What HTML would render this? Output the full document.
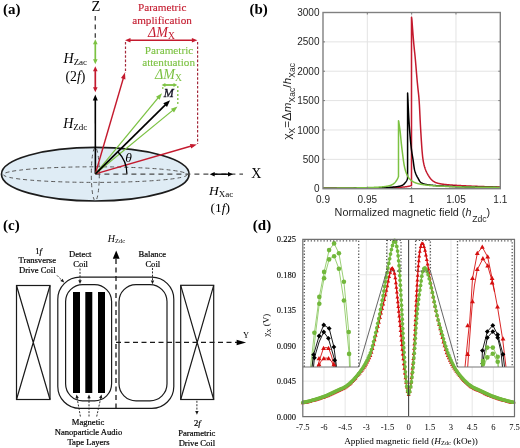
<!DOCTYPE html>
<html><head><meta charset="utf-8"><style>
html,body{margin:0;padding:0;background:#fff;width:520px;height:448px;overflow:hidden}
svg{display:block;filter:blur(0.45px)}
</style></head><body>
<svg width="520" height="448" viewBox="0 0 520 448">
<rect width="520" height="448" fill="#fff"/>
<text x="3" y="14" font-size="15" font-family="'Liberation Serif', serif" fill="#000" font-weight="bold">(a)</text>
<ellipse cx="95.3" cy="174.2" rx="93.8" ry="26.8" fill="#dfecf5" stroke="#1c1c1c" stroke-width="1.7"/>
<ellipse cx="95.3" cy="174.6" rx="92" ry="7.8" fill="none" stroke="#5a5a5a" stroke-width="1" stroke-dasharray="4 3"/>
<ellipse cx="95.3" cy="174.2" rx="4" ry="26.6" fill="none" stroke="#5a5a5a" stroke-width="1" stroke-dasharray="4 3"/>
<line x1="95.4" y1="174.10000000000002" x2="243" y2="174.10000000000002" stroke="#4a4a4a" stroke-width="1.3" stroke-dasharray="5 4"/>
<line x1="212.7" y1="174.2" x2="230" y2="174.2" stroke="#000" stroke-width="1.4"/><polygon points="233,174.2 228,176.4 228,172" fill="#000"/><polygon points="209.7,174.2 214.7,172 214.7,176.4" fill="#000"/>
<text x="251.3" y="177.8" font-size="14" font-family="'Liberation Serif', serif" fill="#000" >X</text>
<text x="209" y="195.3" font-size="13.5" font-family="'Liberation Serif', serif" fill="#000" ><tspan font-style="italic">H</tspan><tspan font-size="9" dy="1.7">Xac</tspan></text>
<text x="210.5" y="212.2" font-size="13.5" font-family="'Liberation Serif', serif" fill="#000" >(1<tspan font-style="italic">f</tspan>)</text>
<line x1="95.3" y1="16" x2="95.3" y2="39" stroke="#4a4a4a" stroke-width="1.4" stroke-dasharray="4.6 4"/>
<line x1="95.3" y1="42.3" x2="95.3" y2="61.3" stroke="#7cc242" stroke-width="1.7"/><polygon points="95.3,64.3 93,59.3 97.6,59.3" fill="#7cc242"/><polygon points="95.3,39.3 97.6,44.3 93,44.3" fill="#7cc242"/>
<line x1="95.3" y1="69.3" x2="95.3" y2="89.2" stroke="#c41a2e" stroke-width="1.7"/><polygon points="95.3,92.2 93,87.2 97.6,87.2" fill="#c41a2e"/><polygon points="95.3,66.3 97.6,71.3 93,71.3" fill="#c41a2e"/>
<line x1="95.4" y1="173.8" x2="95.3" y2="98" stroke="#000" stroke-width="1.6"/><polygon points="95.3,94.4 97.81,100.4 92.81,100.4" fill="#000"/>
<text x="91.4" y="10.8" font-size="14.5" font-family="'Liberation Serif', serif" fill="#000" >Z</text>
<text x="63.5" y="63" font-size="14" font-family="'Liberation Serif', serif" fill="#000" ><tspan font-style="italic">H</tspan><tspan font-size="9" dy="1.7">Zac</tspan></text>
<text x="65.5" y="80.6" font-size="13.8" font-family="'Liberation Serif', serif" fill="#000" >(2<tspan font-style="italic">f</tspan>)</text>
<text x="63.2" y="128" font-size="14" font-family="'Liberation Serif', serif" fill="#000" ><tspan font-style="italic">H</tspan><tspan font-size="9" dy="1.7">Zdc</tspan></text>
<line x1="125.5" y1="42" x2="125.5" y2="73" stroke="#a3283a" stroke-width="1.2" stroke-dasharray="2.6 1.8"/>
<line x1="197.6" y1="42" x2="197.6" y2="144" stroke="#a3283a" stroke-width="1.2" stroke-dasharray="2.6 1.8"/>
<line x1="128.3" y1="40.3" x2="194.1" y2="40.3" stroke="#c41a2e" stroke-width="1.6"/><polygon points="197.4,40.3 191.9,42.5 191.9,38.1" fill="#c41a2e"/><polygon points="125,40.3 130.5,38.1 130.5,42.5" fill="#c41a2e"/>
<line x1="162.8" y1="87" x2="162.8" y2="90.5" stroke="#7cc242" stroke-width="1.2" stroke-dasharray="2 2"/>
<line x1="177.8" y1="86" x2="177.8" y2="104" stroke="#7cc242" stroke-width="1.3" stroke-dasharray="2 2"/>
<line x1="163.88" y1="85" x2="175.02" y2="85" stroke="#7cc242" stroke-width="1.8"/><polygon points="177.3,85 173.5,86.9 173.5,83.1" fill="#7cc242"/><polygon points="161.6,85 165.4,83.1 165.4,86.9" fill="#7cc242"/>
<line x1="95.4" y1="173.8" x2="123.91" y2="76.24" stroke="#c41a2e" stroke-width="1.4"/><polygon points="125,72.5 125.38,79.38 120.97,78.09" fill="#c41a2e"/>
<line x1="95.4" y1="173.8" x2="193.05" y2="145.49" stroke="#c41a2e" stroke-width="1.4"/><polygon points="196.8,144.4 191.2,148.42 189.92,144" fill="#c41a2e"/>
<line x1="95.4" y1="173.8" x2="159.52" y2="96.21" stroke="#7cc242" stroke-width="1.25"/><polygon points="162,93.2 159.71,99.74 156.01,96.68" fill="#7cc242"/>
<line x1="95.4" y1="173.8" x2="174.49" y2="108.87" stroke="#7cc242" stroke-width="1.25"/><polygon points="177.5,106.4 174,112.38 170.95,108.67" fill="#7cc242"/>
<line x1="95.4" y1="173.8" x2="167.11" y2="103.15" stroke="#000" stroke-width="1.7"/><polygon points="170.1,100.2 167.01,107.04 163.22,103.19" fill="#000"/>
<path d="M 126.9 173.8 A 31.5 31.5 0 0 0 117.84 151.69" fill="none" stroke="#000" stroke-width="1.3"/>
<text x="125.2" y="161.6" font-size="13.5" font-family="'Liberation Serif', serif" fill="#000" font-style="italic">&#952;</text>
<text x="163.8" y="97.4" font-size="12" font-family="'Liberation Serif', serif" fill="#1a1a2a" stroke="#1a1a2a" stroke-width="0.35" font-style="italic">M</text>
<text x="162.2" y="10.8" font-size="11.2" font-family="'Liberation Serif', serif" fill="#c41a2e" stroke="#c41a2e" stroke-width="0.12" text-anchor="middle">Parametric</text>
<text x="162" y="23.8" font-size="11.2" font-family="'Liberation Serif', serif" fill="#c41a2e" stroke="#c41a2e" stroke-width="0.12" text-anchor="middle">amplification</text>
<text x="148" y="36.9" font-size="14" font-family="'Liberation Serif', serif" fill="#c41a2e" font-style="italic">&#916;<tspan font-style="italic">M</tspan><tspan font-size="9.5" dy="1.8" font-style="normal">X</tspan></text>
<text x="169" y="53.5" font-size="11.2" font-family="'Liberation Serif', serif" fill="#7cc242" stroke="#7cc242" stroke-width="0.12" text-anchor="middle">Parametric</text>
<text x="168.6" y="66.2" font-size="11.2" font-family="'Liberation Serif', serif" fill="#7cc242" stroke="#7cc242" stroke-width="0.12" text-anchor="middle">attentuation</text>
<text x="155" y="79.4" font-size="14" font-family="'Liberation Serif', serif" fill="#7cc242" font-style="italic">&#916;<tspan font-style="italic">M</tspan><tspan font-size="9.5" dy="1.8" font-style="normal">X</tspan></text>
<text x="249.5" y="14.4" font-size="15" font-family="'Liberation Serif', serif" fill="#000" font-weight="bold">(b)</text>
<g stroke="#e3e3e3" stroke-width="1"><line x1="367.32" y1="12.5" x2="367.32" y2="188.7"/><line x1="411.65" y1="12.5" x2="411.65" y2="188.7"/><line x1="455.98" y1="12.5" x2="455.98" y2="188.7"/><line x1="323.0" y1="159.33" x2="500.3" y2="159.33"/><line x1="323.0" y1="129.97" x2="500.3" y2="129.97"/><line x1="323.0" y1="100.6" x2="500.3" y2="100.6"/><line x1="323.0" y1="71.23" x2="500.3" y2="71.23"/><line x1="323.0" y1="41.87" x2="500.3" y2="41.87"/></g>
<polyline points="323,188.35 323.25,188.35 323.51,188.35 323.76,188.35 324.01,188.35 324.27,188.34 324.52,188.34 324.78,188.34 325.03,188.34 325.28,188.34 325.54,188.34 325.79,188.34 326.04,188.34 326.3,188.34 326.55,188.34 326.8,188.34 327.06,188.33 327.31,188.33 327.57,188.33 327.82,188.33 328.07,188.33 328.33,188.33 328.58,188.33 328.83,188.33 329.09,188.33 329.34,188.33 329.59,188.32 329.85,188.32 330.1,188.32 330.36,188.32 330.61,188.32 330.86,188.32 331.12,188.32 331.37,188.32 331.62,188.32 331.88,188.31 332.13,188.31 332.38,188.31 332.64,188.31 332.89,188.31 333.15,188.31 333.4,188.31 333.65,188.31 333.91,188.31 334.16,188.3 334.41,188.3 334.67,188.3 334.92,188.3 335.18,188.3 335.43,188.3 335.68,188.3 335.94,188.3 336.19,188.3 336.44,188.29 336.7,188.29 336.95,188.29 337.2,188.29 337.46,188.29 337.71,188.29 337.97,188.29 338.22,188.29 338.47,188.28 338.73,188.28 338.98,188.28 339.23,188.28 339.49,188.28 339.74,188.28 339.99,188.28 340.25,188.28 340.5,188.27 340.76,188.27 341.01,188.27 341.26,188.27 341.52,188.27 341.77,188.27 342.02,188.27 342.28,188.27 342.53,188.26 342.78,188.26 343.04,188.26 343.29,188.26 343.55,188.26 343.8,188.26 344.05,188.26 344.31,188.25 344.56,188.25 344.81,188.25 345.07,188.25 345.32,188.25 345.57,188.25 345.83,188.25 346.08,188.24 346.34,188.24 346.59,188.24 346.84,188.24 347.1,188.24 347.35,188.24 347.6,188.23 347.86,188.23 348.11,188.23 348.36,188.23 348.62,188.23 348.87,188.23 349.13,188.23 349.38,188.22 349.63,188.22 349.89,188.22 350.14,188.22 350.39,188.22 350.65,188.22 350.9,188.21 351.15,188.21 351.41,188.21 351.66,188.21 351.92,188.21 352.17,188.21 352.42,188.2 352.68,188.2 352.93,188.2 353.18,188.2 353.44,188.2 353.69,188.19 353.95,188.19 354.2,188.19 354.45,188.19 354.71,188.19 354.96,188.19 355.21,188.18 355.47,188.18 355.72,188.18 355.97,188.18 356.23,188.18 356.48,188.17 356.74,188.17 356.99,188.17 357.24,188.17 357.5,188.17 357.75,188.16 358,188.16 358.26,188.16 358.51,188.16 358.76,188.16 359.02,188.15 359.27,188.15 359.53,188.15 359.78,188.15 360.03,188.15 360.29,188.14 360.54,188.14 360.79,188.14 361.05,188.14 361.3,188.13 361.55,188.13 361.81,188.13 362.06,188.13 362.32,188.13 362.57,188.12 362.82,188.12 363.08,188.12 363.33,188.12 363.58,188.11 363.84,188.11 364.09,188.11 364.34,188.11 364.6,188.1 364.85,188.1 365.11,188.1 365.36,188.1 365.61,188.09 365.87,188.09 366.12,188.09 366.37,188.09 366.63,188.08 366.88,188.08 367.13,188.08 367.39,188.07 367.64,188.07 367.9,188.07 368.15,188.07 368.4,188.06 368.66,188.06 368.91,188.06 369.16,188.06 369.42,188.05 369.67,188.05 369.92,188.05 370.18,188.04 370.43,188.04 370.69,188.04 370.94,188.03 371.19,188.03 371.45,188.03 371.7,188.03 371.95,188.02 372.21,188.02 372.46,188.02 372.72,188.01 372.97,188.01 373.22,188.01 373.48,188 373.73,188 373.98,188 374.24,187.99 374.49,187.99 374.74,187.99 375,187.98 375.25,187.98 375.51,187.97 375.76,187.97 376.01,187.97 376.27,187.96 376.52,187.96 376.77,187.96 377.03,187.95 377.28,187.95 377.53,187.94 377.79,187.94 378.04,187.94 378.3,187.93 378.55,187.93 378.8,187.92 379.06,187.92 379.31,187.92 379.56,187.91 379.82,187.91 380.07,187.9 380.32,187.9 380.58,187.89 380.83,187.89 381.09,187.89 381.34,187.88 381.59,187.88 381.85,187.87 382.1,187.87 382.35,187.86 382.61,187.86 382.86,187.85 383.11,187.85 383.37,187.84 383.62,187.84 383.88,187.83 384.13,187.83 384.38,187.82 384.64,187.82 384.89,187.81 385.14,187.81 385.4,187.8 385.65,187.79 385.9,187.79 386.16,187.78 386.41,187.78 386.67,187.77 386.92,187.76 387.17,187.76 387.43,187.75 387.68,187.75 387.93,187.74 388.19,187.73 388.44,187.73 388.69,187.72 388.95,187.71 389.2,187.71 389.46,187.7 389.71,187.69 389.96,187.68 390.22,187.68 390.47,187.67 390.72,187.66 390.98,187.65 391.23,187.65 391.48,187.64 391.74,187.63 391.99,187.62 392.25,187.61 392.5,187.61 392.75,187.6 393.01,187.59 393.26,187.58 393.51,187.57 393.77,187.56 394.02,187.55 394.28,187.54 394.53,187.53 394.78,187.52 395.04,187.51 395.29,187.5 395.54,187.49 395.8,187.48 396.05,187.47 396.3,187.46 396.56,187.45 396.81,187.44 397.07,187.43 397.32,187.41 397.57,187.4 397.83,187.39 398.08,187.38 398.33,187.36 398.59,187.35 398.84,187.34 399.09,187.32 399.35,187.31 399.6,187.29 399.86,187.28 400.11,187.26 400.36,187.25 400.62,187.23 400.87,187.22 401.12,187.2 401.38,187.18 401.63,187.16 401.88,187.15 402.14,187.13 402.39,187.11 402.65,187.09 402.9,187.07 403.15,187.05 403.41,187.02 403.66,187 403.91,186.98 404.17,186.95 404.42,186.93 404.67,186.9 404.93,186.88 405.18,186.85 405.44,186.82 405.69,186.79 405.94,186.76 406.2,186.72 406.45,186.69 406.7,186.65 406.96,186.62 407.21,186.58 407.46,186.54 407.72,186.49 407.97,186.45 408.23,186.4 408.48,186.35 408.73,186.3 408.99,186.25 409.24,186.19 409.49,186.12 409.75,186.05 410,185.97 410.25,185.89 410.51,185.79 410.76,185.68 411.02,185.56 411.27,185.43 411.49,185.3 411.5,17.2 411.52,17.21 411.78,18.65 412.03,21.43 412.28,24.74 412.54,28.2 412.79,31.64 413.05,34.96 413.3,38.13 413.55,41.14 413.81,43.98 414.06,46.66 414.31,49.18 414.57,51.55 414.82,53.79 415.07,56.23 415.33,58.98 415.58,61.94 415.84,64.99 416.09,68.09 416.34,71.16 416.6,74.18 416.85,77.12 417.1,79.96 417.36,82.7 417.61,85.32 417.86,87.82 418.12,90.19 418.37,92.44 418.63,94.77 418.88,97.38 419.13,100.44 419.39,104.5 419.64,109.41 419.89,114.65 420.15,119.85 420.4,124.76 420.65,129.22 420.91,133.39 421.16,137.6 421.42,141.67 421.67,145.48 421.92,148.94 422.18,152.03 422.43,154.74 422.68,157.06 422.94,159.02 423.19,160.65 423.44,162.07 423.7,163.34 423.95,164.48 424.21,165.52 424.46,166.47 424.71,167.34 424.97,168.14 425.22,168.89 425.47,169.58 425.73,170.23 425.98,170.85 426.23,171.43 426.49,171.98 426.74,172.51 427,173.02 427.25,173.5 427.5,173.97 427.76,174.42 428.01,174.86 428.26,175.29 428.52,175.71 428.77,176.11 429.02,176.51 429.28,176.89 429.53,177.25 429.79,177.61 430.04,177.95 430.29,178.27 430.55,178.59 430.8,178.89 431.05,179.17 431.31,179.45 431.56,179.71 431.82,179.96 432.07,180.2 432.32,180.43 432.58,180.64 432.83,180.85 433.08,181.04 433.34,181.23 433.59,181.4 433.84,181.57 434.1,181.73 434.35,181.88 434.61,182.02 434.86,182.15 435.11,182.28 435.37,182.4 435.62,182.51 435.87,182.61 436.13,182.71 436.38,182.8 436.63,182.89 436.89,182.97 437.14,183.04 437.4,183.12 437.65,183.19 437.9,183.25 438.16,183.32 438.41,183.38 438.66,183.44 438.92,183.5 439.17,183.55 439.42,183.61 439.68,183.66 439.93,183.71 440.19,183.76 440.44,183.8 440.69,183.85 440.95,183.89 441.2,183.94 441.45,183.98 441.71,184.02 441.96,184.06 442.21,184.1 442.47,184.14 442.72,184.17 442.98,184.21 443.23,184.24 443.48,184.28 443.74,184.31 443.99,184.34 444.24,184.37 444.5,184.4 444.75,184.43 445,184.46 445.26,184.49 445.51,184.52 445.77,184.54 446.02,184.57 446.27,184.6 446.53,184.62 446.78,184.65 447.03,184.67 447.29,184.7 447.54,184.72 447.79,184.74 448.05,184.77 448.3,184.79 448.56,184.81 448.81,184.83 449.06,184.85 449.32,184.87 449.57,184.89 449.82,184.91 450.08,184.93 450.33,184.95 450.58,184.97 450.84,184.99 451.09,185.01 451.35,185.03 451.6,185.05 451.85,185.07 452.11,185.08 452.36,185.1 452.61,185.12 452.87,185.14 453.12,185.15 453.38,185.17 453.63,185.19 453.88,185.2 454.14,185.22 454.39,185.24 454.64,185.25 454.9,185.27 455.15,185.28 455.4,185.3 455.66,185.31 455.91,185.33 456.17,185.34 456.42,185.36 456.67,185.37 456.93,185.39 457.18,185.4 457.43,185.42 457.69,185.43 457.94,185.45 458.19,185.46 458.45,185.48 458.7,185.49 458.96,185.5 459.21,185.52 459.46,185.53 459.72,185.55 459.97,185.56 460.22,185.57 460.48,185.59 460.73,185.6 460.98,185.61 461.24,185.63 461.49,185.64 461.75,185.65 462,185.67 462.25,185.68 462.51,185.69 462.76,185.71 463.01,185.72 463.27,185.73 463.52,185.74 463.77,185.76 464.03,185.77 464.28,185.78 464.54,185.79 464.79,185.81 465.04,185.82 465.3,185.83 465.55,185.84 465.8,185.86 466.06,185.87 466.31,185.88 466.56,185.89 466.82,185.91 467.07,185.92 467.33,185.93 467.58,185.94 467.83,185.95 468.09,185.97 468.34,185.98 468.59,185.99 468.85,186 469.1,186.01 469.35,186.03 469.61,186.04 469.86,186.05 470.12,186.06 470.37,186.07 470.62,186.09 470.88,186.1 471.13,186.11 471.38,186.12 471.64,186.13 471.89,186.14 472.15,186.15 472.4,186.17 472.65,186.18 472.91,186.19 473.16,186.2 473.41,186.21 473.67,186.22 473.92,186.23 474.17,186.24 474.43,186.25 474.68,186.26 474.94,186.27 475.19,186.28 475.44,186.29 475.7,186.3 475.95,186.31 476.2,186.33 476.46,186.34 476.71,186.35 476.96,186.36 477.22,186.37 477.47,186.37 477.73,186.38 477.98,186.39 478.23,186.4 478.49,186.41 478.74,186.42 478.99,186.43 479.25,186.44 479.5,186.45 479.75,186.46 480.01,186.47 480.26,186.48 480.52,186.49 480.77,186.5 481.02,186.51 481.28,186.52 481.53,186.52 481.78,186.53 482.04,186.54 482.29,186.55 482.54,186.56 482.8,186.57 483.05,186.58 483.31,186.59 483.56,186.59 483.81,186.6 484.07,186.61 484.32,186.62 484.57,186.63 484.83,186.64 485.08,186.64 485.33,186.65 485.59,186.66 485.84,186.67 486.1,186.68 486.35,186.68 486.6,186.69 486.86,186.7 487.11,186.71 487.36,186.71 487.62,186.72 487.87,186.73 488.12,186.74 488.38,186.74 488.63,186.75 488.89,186.76 489.14,186.77 489.39,186.77 489.65,186.78 489.9,186.79 490.15,186.8 490.41,186.8 490.66,186.81 490.92,186.82 491.17,186.82 491.42,186.83 491.68,186.84 491.93,186.85 492.18,186.85 492.44,186.86 492.69,186.87 492.94,186.87 493.2,186.88 493.45,186.89 493.71,186.89 493.96,186.9 494.21,186.91 494.47,186.91 494.72,186.92 494.97,186.92 495.23,186.93 495.48,186.94 495.73,186.94 495.99,186.95 496.24,186.96 496.5,186.96 496.75,186.97 497,186.97 497.26,186.98 497.51,186.99 497.76,186.99 498.02,187 498.27,187 498.52,187.01 498.78,187.02 499.03,187.02 499.29,187.03 499.54,187.03 499.79,187.04 500.05,187.05 500.3,187.05" fill="none" stroke="#c41a2e" stroke-width="1.5" stroke-linejoin="round"/>
<polyline points="323,188.29 323.25,188.29 323.51,188.29 323.76,188.28 324.01,188.28 324.27,188.28 324.52,188.28 324.78,188.28 325.03,188.28 325.28,188.28 325.54,188.28 325.79,188.28 326.04,188.28 326.3,188.28 326.55,188.27 326.8,188.27 327.06,188.27 327.31,188.27 327.57,188.27 327.82,188.27 328.07,188.27 328.33,188.27 328.58,188.27 328.83,188.27 329.09,188.26 329.34,188.26 329.59,188.26 329.85,188.26 330.1,188.26 330.36,188.26 330.61,188.26 330.86,188.26 331.12,188.26 331.37,188.25 331.62,188.25 331.88,188.25 332.13,188.25 332.38,188.25 332.64,188.25 332.89,188.25 333.15,188.25 333.4,188.25 333.65,188.24 333.91,188.24 334.16,188.24 334.41,188.24 334.67,188.24 334.92,188.24 335.18,188.24 335.43,188.24 335.68,188.23 335.94,188.23 336.19,188.23 336.44,188.23 336.7,188.23 336.95,188.23 337.2,188.23 337.46,188.23 337.71,188.22 337.97,188.22 338.22,188.22 338.47,188.22 338.73,188.22 338.98,188.22 339.23,188.22 339.49,188.22 339.74,188.21 339.99,188.21 340.25,188.21 340.5,188.21 340.76,188.21 341.01,188.21 341.26,188.21 341.52,188.2 341.77,188.2 342.02,188.2 342.28,188.2 342.53,188.2 342.78,188.2 343.04,188.2 343.29,188.19 343.55,188.19 343.8,188.19 344.05,188.19 344.31,188.19 344.56,188.19 344.81,188.19 345.07,188.18 345.32,188.18 345.57,188.18 345.83,188.18 346.08,188.18 346.34,188.18 346.59,188.17 346.84,188.17 347.1,188.17 347.35,188.17 347.6,188.17 347.86,188.17 348.11,188.16 348.36,188.16 348.62,188.16 348.87,188.16 349.13,188.16 349.38,188.16 349.63,188.15 349.89,188.15 350.14,188.15 350.39,188.15 350.65,188.15 350.9,188.14 351.15,188.14 351.41,188.14 351.66,188.14 351.92,188.14 352.17,188.13 352.42,188.13 352.68,188.13 352.93,188.13 353.18,188.13 353.44,188.13 353.69,188.12 353.95,188.12 354.2,188.12 354.45,188.12 354.71,188.11 354.96,188.11 355.21,188.11 355.47,188.11 355.72,188.11 355.97,188.1 356.23,188.1 356.48,188.1 356.74,188.1 356.99,188.09 357.24,188.09 357.5,188.09 357.75,188.09 358,188.09 358.26,188.08 358.51,188.08 358.76,188.08 359.02,188.08 359.27,188.07 359.53,188.07 359.78,188.07 360.03,188.07 360.29,188.06 360.54,188.06 360.79,188.06 361.05,188.06 361.3,188.05 361.55,188.05 361.81,188.05 362.06,188.04 362.32,188.04 362.57,188.04 362.82,188.04 363.08,188.03 363.33,188.03 363.58,188.03 363.84,188.02 364.09,188.02 364.34,188.02 364.6,188.02 364.85,188.01 365.11,188.01 365.36,188.01 365.61,188 365.87,188 366.12,188 366.37,187.99 366.63,187.99 366.88,187.99 367.13,187.98 367.39,187.98 367.64,187.98 367.9,187.97 368.15,187.97 368.4,187.97 368.66,187.96 368.91,187.96 369.16,187.95 369.42,187.95 369.67,187.95 369.92,187.94 370.18,187.94 370.43,187.93 370.69,187.93 370.94,187.93 371.19,187.92 371.45,187.92 371.7,187.91 371.95,187.91 372.21,187.91 372.46,187.9 372.72,187.9 372.97,187.89 373.22,187.89 373.48,187.88 373.73,187.88 373.98,187.87 374.24,187.87 374.49,187.86 374.74,187.86 375,187.85 375.25,187.85 375.51,187.84 375.76,187.84 376.01,187.83 376.27,187.83 376.52,187.82 376.77,187.82 377.03,187.81 377.28,187.81 377.53,187.8 377.79,187.79 378.04,187.79 378.3,187.78 378.55,187.78 378.8,187.77 379.06,187.76 379.31,187.76 379.56,187.75 379.82,187.74 380.07,187.74 380.32,187.73 380.58,187.72 380.83,187.72 381.09,187.71 381.34,187.7 381.59,187.69 381.85,187.69 382.1,187.68 382.35,187.67 382.61,187.66 382.86,187.65 383.11,187.65 383.37,187.64 383.62,187.63 383.88,187.62 384.13,187.61 384.38,187.6 384.64,187.59 384.89,187.58 385.14,187.57 385.4,187.56 385.65,187.55 385.9,187.54 386.16,187.53 386.41,187.52 386.67,187.51 386.92,187.5 387.17,187.49 387.43,187.47 387.68,187.46 387.93,187.45 388.19,187.44 388.44,187.42 388.69,187.41 388.95,187.4 389.2,187.38 389.46,187.37 389.71,187.36 389.96,187.34 390.22,187.32 390.47,187.31 390.72,187.29 390.98,187.28 391.23,187.26 391.48,187.24 391.74,187.22 391.99,187.2 392.25,187.18 392.5,187.16 392.75,187.14 393.01,187.12 393.26,187.1 393.51,187.08 393.77,187.06 394.02,187.03 394.28,187.01 394.53,186.98 394.78,186.95 395.04,186.93 395.29,186.9 395.54,186.87 395.8,186.84 396.05,186.81 396.3,186.77 396.56,186.74 396.81,186.7 397.07,186.67 397.32,186.63 397.57,186.59 397.83,186.54 398.08,186.5 398.33,186.45 398.59,186.41 398.84,186.35 399.09,186.3 399.35,186.24 399.6,186.19 399.86,186.12 400.11,186.06 400.36,185.99 400.62,185.92 400.87,185.84 401.12,185.76 401.38,185.67 401.63,185.57 401.88,185.46 402.14,185.34 402.39,185.21 402.65,185.07 402.9,184.92 403.15,184.75 403.41,184.56 403.66,184.36 403.91,184.14 404.17,183.9 404.42,183.64 404.67,183.36 404.93,183.06 405.18,182.75 405.44,182.44 405.69,182.13 405.94,181.8 406.2,181.43 406.45,181.01 406.7,180.54 406.96,180.02 407.21,179.47 407.46,178.94 407.59,178.73 407.6,92.96 407.72,95.12 407.97,100.78 408.23,106.64 408.48,112.13 408.73,117.06 408.99,121.43 409.24,125.28 409.49,128.67 409.75,131.76 410,134.88 410.25,137.93 410.51,140.82 410.76,143.49 411.02,145.94 411.27,148.16 411.52,150.17 411.78,151.94 412.03,153.56 412.28,155.11 412.54,156.64 412.79,158.18 413.05,159.75 413.3,161.46 413.55,163.39 413.81,165.31 414.06,167.08 414.31,168.62 414.57,169.88 414.82,170.9 415.07,171.79 415.33,172.57 415.58,173.27 415.84,173.91 416.09,174.49 416.34,175.05 416.6,175.57 416.85,176.07 417.1,176.56 417.36,177.03 417.61,177.49 417.86,177.95 418.12,178.41 418.37,178.88 418.63,179.36 418.88,179.82 419.13,180.26 419.39,180.68 419.64,181.07 419.89,181.43 420.15,181.75 420.4,182.05 420.65,182.31 420.91,182.54 421.16,182.73 421.42,182.9 421.67,183.04 421.92,183.16 422.18,183.28 422.43,183.39 422.68,183.49 422.94,183.59 423.19,183.68 423.44,183.77 423.7,183.85 423.95,183.93 424.21,184.01 424.46,184.08 424.71,184.14 424.97,184.21 425.22,184.27 425.47,184.33 425.73,184.38 425.98,184.44 426.23,184.49 426.49,184.54 426.74,184.58 427,184.63 427.25,184.67 427.5,184.72 427.76,184.76 428.01,184.8 428.26,184.83 428.52,184.87 428.77,184.91 429.02,184.94 429.28,184.97 429.53,185.01 429.79,185.04 430.04,185.07 430.29,185.1 430.55,185.13 430.8,185.16 431.05,185.18 431.31,185.21 431.56,185.24 431.82,185.26 432.07,185.29 432.32,185.31 432.58,185.34 432.83,185.36 433.08,185.38 433.34,185.41 433.59,185.43 433.84,185.45 434.1,185.47 434.35,185.49 434.61,185.51 434.86,185.53 435.11,185.55 435.37,185.57 435.62,185.59 435.87,185.61 436.13,185.63 436.38,185.65 436.63,185.67 436.89,185.69 437.14,185.7 437.4,185.72 437.65,185.74 437.9,185.76 438.16,185.78 438.41,185.79 438.66,185.81 438.92,185.83 439.17,185.84 439.42,185.86 439.68,185.88 439.93,185.89 440.19,185.91 440.44,185.92 440.69,185.94 440.95,185.96 441.2,185.97 441.45,185.99 441.71,186 441.96,186.02 442.21,186.03 442.47,186.05 442.72,186.06 442.98,186.08 443.23,186.09 443.48,186.11 443.74,186.12 443.99,186.14 444.24,186.15 444.5,186.16 444.75,186.18 445,186.19 445.26,186.2 445.51,186.22 445.77,186.23 446.02,186.24 446.27,186.26 446.53,186.27 446.78,186.28 447.03,186.29 447.29,186.31 447.54,186.32 447.79,186.33 448.05,186.34 448.3,186.35 448.56,186.36 448.81,186.37 449.06,186.39 449.32,186.4 449.57,186.41 449.82,186.42 450.08,186.43 450.33,186.44 450.58,186.45 450.84,186.46 451.09,186.47 451.35,186.48 451.6,186.49 451.85,186.5 452.11,186.51 452.36,186.52 452.61,186.53 452.87,186.54 453.12,186.55 453.38,186.55 453.63,186.56 453.88,186.57 454.14,186.58 454.39,186.59 454.64,186.6 454.9,186.61 455.15,186.62 455.4,186.62 455.66,186.63 455.91,186.64 456.17,186.65 456.42,186.66 456.67,186.67 456.93,186.67 457.18,186.68 457.43,186.69 457.69,186.7 457.94,186.7 458.19,186.71 458.45,186.72 458.7,186.73 458.96,186.73 459.21,186.74 459.46,186.75 459.72,186.76 459.97,186.76 460.22,186.77 460.48,186.78 460.73,186.78 460.98,186.79 461.24,186.8 461.49,186.8 461.75,186.81 462,186.82 462.25,186.82 462.51,186.83 462.76,186.84 463.01,186.84 463.27,186.85 463.52,186.86 463.77,186.86 464.03,186.87 464.28,186.87 464.54,186.88 464.79,186.89 465.04,186.89 465.3,186.9 465.55,186.9 465.8,186.91 466.06,186.92 466.31,186.92 466.56,186.93 466.82,186.93 467.07,186.94 467.33,186.94 467.58,186.95 467.83,186.95 468.09,186.96 468.34,186.97 468.59,186.97 468.85,186.98 469.1,186.98 469.35,186.99 469.61,186.99 469.86,187 470.12,187 470.37,187.01 470.62,187.01 470.88,187.02 471.13,187.02 471.38,187.03 471.64,187.03 471.89,187.04 472.15,187.04 472.4,187.05 472.65,187.05 472.91,187.05 473.16,187.06 473.41,187.06 473.67,187.07 473.92,187.07 474.17,187.08 474.43,187.08 474.68,187.09 474.94,187.09 475.19,187.1 475.44,187.1 475.7,187.1 475.95,187.11 476.2,187.11 476.46,187.12 476.71,187.12 476.96,187.12 477.22,187.13 477.47,187.13 477.73,187.14 477.98,187.14 478.23,187.15 478.49,187.15 478.74,187.15 478.99,187.16 479.25,187.16 479.5,187.16 479.75,187.17 480.01,187.17 480.26,187.18 480.52,187.18 480.77,187.18 481.02,187.19 481.28,187.19 481.53,187.2 481.78,187.2 482.04,187.2 482.29,187.21 482.54,187.21 482.8,187.21 483.05,187.22 483.31,187.22 483.56,187.22 483.81,187.23 484.07,187.23 484.32,187.23 484.57,187.24 484.83,187.24 485.08,187.24 485.33,187.25 485.59,187.25 485.84,187.25 486.1,187.26 486.35,187.26 486.6,187.26 486.86,187.27 487.11,187.27 487.36,187.27 487.62,187.28 487.87,187.28 488.12,187.28 488.38,187.29 488.63,187.29 488.89,187.29 489.14,187.3 489.39,187.3 489.65,187.3 489.9,187.3 490.15,187.31 490.41,187.31 490.66,187.31 490.92,187.32 491.17,187.32 491.42,187.32 491.68,187.33 491.93,187.33 492.18,187.33 492.44,187.33 492.69,187.34 492.94,187.34 493.2,187.34 493.45,187.34 493.71,187.35 493.96,187.35 494.21,187.35 494.47,187.36 494.72,187.36 494.97,187.36 495.23,187.36 495.48,187.37 495.73,187.37 495.99,187.37 496.24,187.37 496.5,187.38 496.75,187.38 497,187.38 497.26,187.38 497.51,187.39 497.76,187.39 498.02,187.39 498.27,187.39 498.52,187.4 498.78,187.4 499.03,187.4 499.29,187.4 499.54,187.41 499.79,187.41 500.05,187.41 500.3,187.41" fill="none" stroke="#000" stroke-width="1.5" stroke-linejoin="round"/>
<polyline points="323,188.23 323.25,188.23 323.51,188.22 323.76,188.22 324.01,188.22 324.27,188.22 324.52,188.22 324.78,188.22 325.03,188.21 325.28,188.21 325.54,188.21 325.79,188.21 326.04,188.21 326.3,188.21 326.55,188.2 326.8,188.2 327.06,188.2 327.31,188.2 327.57,188.2 327.82,188.2 328.07,188.19 328.33,188.19 328.58,188.19 328.83,188.19 329.09,188.19 329.34,188.19 329.59,188.18 329.85,188.18 330.1,188.18 330.36,188.18 330.61,188.18 330.86,188.17 331.12,188.17 331.37,188.17 331.62,188.17 331.88,188.17 332.13,188.16 332.38,188.16 332.64,188.16 332.89,188.16 333.15,188.16 333.4,188.15 333.65,188.15 333.91,188.15 334.16,188.15 334.41,188.15 334.67,188.14 334.92,188.14 335.18,188.14 335.43,188.14 335.68,188.14 335.94,188.13 336.19,188.13 336.44,188.13 336.7,188.13 336.95,188.12 337.2,188.12 337.46,188.12 337.71,188.12 337.97,188.11 338.22,188.11 338.47,188.11 338.73,188.11 338.98,188.11 339.23,188.1 339.49,188.1 339.74,188.1 339.99,188.1 340.25,188.09 340.5,188.09 340.76,188.09 341.01,188.09 341.26,188.08 341.52,188.08 341.77,188.08 342.02,188.07 342.28,188.07 342.53,188.07 342.78,188.07 343.04,188.06 343.29,188.06 343.55,188.06 343.8,188.06 344.05,188.05 344.31,188.05 344.56,188.05 344.81,188.04 345.07,188.04 345.32,188.04 345.57,188.04 345.83,188.03 346.08,188.03 346.34,188.03 346.59,188.02 346.84,188.02 347.1,188.02 347.35,188.01 347.6,188.01 347.86,188.01 348.11,188 348.36,188 348.62,188 348.87,187.99 349.13,187.99 349.38,187.99 349.63,187.98 349.89,187.98 350.14,187.98 350.39,187.97 350.65,187.97 350.9,187.97 351.15,187.96 351.41,187.96 351.66,187.95 351.92,187.95 352.17,187.95 352.42,187.94 352.68,187.94 352.93,187.94 353.18,187.93 353.44,187.93 353.69,187.92 353.95,187.92 354.2,187.92 354.45,187.91 354.71,187.91 354.96,187.9 355.21,187.9 355.47,187.89 355.72,187.89 355.97,187.89 356.23,187.88 356.48,187.88 356.74,187.87 356.99,187.87 357.24,187.86 357.5,187.86 357.75,187.85 358,187.85 358.26,187.84 358.51,187.84 358.76,187.83 359.02,187.83 359.27,187.82 359.53,187.82 359.78,187.81 360.03,187.81 360.29,187.8 360.54,187.8 360.79,187.79 361.05,187.78 361.3,187.78 361.55,187.77 361.81,187.77 362.06,187.76 362.32,187.76 362.57,187.75 362.82,187.74 363.08,187.74 363.33,187.73 363.58,187.73 363.84,187.72 364.09,187.71 364.34,187.71 364.6,187.7 364.85,187.69 365.11,187.69 365.36,187.68 365.61,187.67 365.87,187.66 366.12,187.66 366.37,187.65 366.63,187.64 366.88,187.63 367.13,187.63 367.39,187.62 367.64,187.61 367.9,187.6 368.15,187.6 368.4,187.59 368.66,187.58 368.91,187.57 369.16,187.56 369.42,187.55 369.67,187.54 369.92,187.54 370.18,187.53 370.43,187.52 370.69,187.51 370.94,187.5 371.19,187.49 371.45,187.48 371.7,187.47 371.95,187.46 372.21,187.45 372.46,187.44 372.72,187.43 372.97,187.42 373.22,187.41 373.48,187.4 373.73,187.38 373.98,187.37 374.24,187.36 374.49,187.35 374.74,187.34 375,187.32 375.25,187.31 375.51,187.3 375.76,187.29 376.01,187.27 376.27,187.26 376.52,187.25 376.77,187.23 377.03,187.22 377.28,187.2 377.53,187.19 377.79,187.17 378.04,187.16 378.3,187.14 378.55,187.13 378.8,187.11 379.06,187.09 379.31,187.08 379.56,187.06 379.82,187.04 380.07,187.02 380.32,187 380.58,186.98 380.83,186.96 381.09,186.94 381.34,186.92 381.59,186.9 381.85,186.88 382.1,186.86 382.35,186.83 382.61,186.81 382.86,186.78 383.11,186.76 383.37,186.73 383.62,186.71 383.88,186.68 384.13,186.65 384.38,186.62 384.64,186.59 384.89,186.56 385.14,186.53 385.4,186.49 385.65,186.46 385.9,186.42 386.16,186.38 386.41,186.34 386.67,186.3 386.92,186.26 387.17,186.22 387.43,186.17 387.68,186.12 387.93,186.07 388.19,186.02 388.44,185.96 388.69,185.91 388.95,185.84 389.2,185.78 389.46,185.71 389.71,185.64 389.96,185.56 390.22,185.48 390.47,185.39 390.72,185.29 390.98,185.19 391.23,185.09 391.48,184.98 391.74,184.86 391.99,184.73 392.25,184.59 392.5,184.45 392.75,184.3 393.01,184.13 393.26,183.96 393.51,183.78 393.77,183.59 394.02,183.4 394.28,183.19 394.53,182.95 394.78,182.7 395.04,182.42 395.29,182.12 395.54,181.8 395.8,181.46 396.05,181.11 396.3,180.75 396.56,180.4 396.81,180.03 397.07,179.62 397.32,179.15 397.57,178.64 397.83,178.08 398.08,177.49 398.33,176.93 398.49,176.67 398.5,120.75 398.59,120.86 398.84,122.03 399.09,123.79 399.35,125.7 399.6,127.58 399.86,129.34 400.11,131.15 400.36,133.47 400.62,136.06 400.87,138.72 401.12,141.32 401.38,143.81 401.63,146.13 401.88,148.29 402.14,150.29 402.39,152.31 402.65,154.39 402.9,156.45 403.15,158.43 403.41,160.29 403.66,162.01 403.91,163.61 404.17,165.06 404.42,166.38 404.67,167.57 404.93,168.64 405.18,169.61 405.44,170.48 405.69,171.29 405.94,172.06 406.2,172.78 406.45,173.45 406.7,174.08 406.96,174.66 407.21,175.21 407.46,175.72 407.72,176.19 407.97,176.64 408.23,177.05 408.48,177.43 408.73,177.79 408.99,178.12 409.24,178.44 409.49,178.74 409.75,179.02 410,179.29 410.25,179.55 410.51,179.79 410.76,180.02 411.02,180.24 411.27,180.45 411.52,180.65 411.78,180.84 412.03,181.02 412.28,181.2 412.54,181.36 412.79,181.52 413.05,181.67 413.3,181.81 413.55,181.95 413.81,182.08 414.06,182.21 414.31,182.33 414.57,182.44 414.82,182.55 415.07,182.66 415.33,182.76 415.58,182.85 415.84,182.95 416.09,183.03 416.34,183.12 416.6,183.2 416.85,183.28 417.1,183.36 417.36,183.43 417.61,183.5 417.86,183.57 418.12,183.64 418.37,183.7 418.63,183.77 418.88,183.83 419.13,183.89 419.39,183.95 419.64,184 419.89,184.06 420.15,184.11 420.4,184.16 420.65,184.21 420.91,184.26 421.16,184.31 421.42,184.36 421.67,184.4 421.92,184.45 422.18,184.49 422.43,184.53 422.68,184.57 422.94,184.62 423.19,184.65 423.44,184.69 423.7,184.73 423.95,184.77 424.21,184.8 424.46,184.84 424.71,184.87 424.97,184.91 425.22,184.94 425.47,184.97 425.73,185 425.98,185.03 426.23,185.06 426.49,185.09 426.74,185.12 427,185.15 427.25,185.18 427.5,185.21 427.76,185.24 428.01,185.26 428.26,185.29 428.52,185.31 428.77,185.34 429.02,185.36 429.28,185.39 429.53,185.41 429.79,185.43 430.04,185.46 430.29,185.48 430.55,185.5 430.8,185.52 431.05,185.55 431.31,185.57 431.56,185.59 431.82,185.61 432.07,185.63 432.32,185.65 432.58,185.67 432.83,185.69 433.08,185.71 433.34,185.73 433.59,185.74 433.84,185.76 434.1,185.78 434.35,185.8 434.61,185.82 434.86,185.83 435.11,185.85 435.37,185.87 435.62,185.88 435.87,185.9 436.13,185.92 436.38,185.93 436.63,185.95 436.89,185.96 437.14,185.98 437.4,185.99 437.65,186.01 437.9,186.02 438.16,186.04 438.41,186.05 438.66,186.07 438.92,186.08 439.17,186.09 439.42,186.11 439.68,186.12 439.93,186.13 440.19,186.15 440.44,186.16 440.69,186.17 440.95,186.19 441.2,186.2 441.45,186.21 441.71,186.22 441.96,186.24 442.21,186.25 442.47,186.26 442.72,186.27 442.98,186.28 443.23,186.29 443.48,186.3 443.74,186.32 443.99,186.33 444.24,186.34 444.5,186.35 444.75,186.36 445,186.37 445.26,186.38 445.51,186.39 445.77,186.4 446.02,186.41 446.27,186.42 446.53,186.43 446.78,186.44 447.03,186.45 447.29,186.46 447.54,186.47 447.79,186.48 448.05,186.49 448.3,186.5 448.56,186.51 448.81,186.52 449.06,186.52 449.32,186.53 449.57,186.54 449.82,186.55 450.08,186.56 450.33,186.57 450.58,186.58 450.84,186.58 451.09,186.59 451.35,186.6 451.6,186.61 451.85,186.62 452.11,186.63 452.36,186.63 452.61,186.64 452.87,186.65 453.12,186.66 453.38,186.66 453.63,186.67 453.88,186.68 454.14,186.69 454.39,186.69 454.64,186.7 454.9,186.71 455.15,186.72 455.4,186.72 455.66,186.73 455.91,186.74 456.17,186.74 456.42,186.75 456.67,186.76 456.93,186.76 457.18,186.77 457.43,186.78 457.69,186.78 457.94,186.79 458.19,186.8 458.45,186.8 458.7,186.81 458.96,186.81 459.21,186.82 459.46,186.83 459.72,186.83 459.97,186.84 460.22,186.84 460.48,186.85 460.73,186.86 460.98,186.86 461.24,186.87 461.49,186.87 461.75,186.88 462,186.89 462.25,186.89 462.51,186.9 462.76,186.9 463.01,186.91 463.27,186.91 463.52,186.92 463.77,186.92 464.03,186.93 464.28,186.93 464.54,186.94 464.79,186.94 465.04,186.95 465.3,186.96 465.55,186.96 465.8,186.97 466.06,186.97 466.31,186.98 466.56,186.98 466.82,186.98 467.07,186.99 467.33,186.99 467.58,187 467.83,187 468.09,187.01 468.34,187.01 468.59,187.02 468.85,187.02 469.1,187.03 469.35,187.03 469.61,187.04 469.86,187.04 470.12,187.05 470.37,187.05 470.62,187.05 470.88,187.06 471.13,187.06 471.38,187.07 471.64,187.07 471.89,187.08 472.15,187.08 472.4,187.08 472.65,187.09 472.91,187.09 473.16,187.1 473.41,187.1 473.67,187.1 473.92,187.11 474.17,187.11 474.43,187.12 474.68,187.12 474.94,187.12 475.19,187.13 475.44,187.13 475.7,187.14 475.95,187.14 476.2,187.14 476.46,187.15 476.71,187.15 476.96,187.15 477.22,187.16 477.47,187.16 477.73,187.17 477.98,187.17 478.23,187.17 478.49,187.18 478.74,187.18 478.99,187.18 479.25,187.19 479.5,187.19 479.75,187.19 480.01,187.2 480.26,187.2 480.52,187.2 480.77,187.21 481.02,187.21 481.28,187.21 481.53,187.22 481.78,187.22 482.04,187.22 482.29,187.23 482.54,187.23 482.8,187.23 483.05,187.24 483.31,187.24 483.56,187.24 483.81,187.25 484.07,187.25 484.32,187.25 484.57,187.25 484.83,187.26 485.08,187.26 485.33,187.26 485.59,187.27 485.84,187.27 486.1,187.27 486.35,187.28 486.6,187.28 486.86,187.28 487.11,187.28 487.36,187.29 487.62,187.29 487.87,187.29 488.12,187.3 488.38,187.3 488.63,187.3 488.89,187.3 489.14,187.31 489.39,187.31 489.65,187.31 489.9,187.32 490.15,187.32 490.41,187.32 490.66,187.32 490.92,187.33 491.17,187.33 491.42,187.33 491.68,187.33 491.93,187.34 492.18,187.34 492.44,187.34 492.69,187.34 492.94,187.35 493.2,187.35 493.45,187.35 493.71,187.35 493.96,187.36 494.21,187.36 494.47,187.36 494.72,187.36 494.97,187.37 495.23,187.37 495.48,187.37 495.73,187.37 495.99,187.38 496.24,187.38 496.5,187.38 496.75,187.38 497,187.39 497.26,187.39 497.51,187.39 497.76,187.39 498.02,187.39 498.27,187.4 498.52,187.4 498.78,187.4 499.03,187.4 499.29,187.41 499.54,187.41 499.79,187.41 500.05,187.41 500.3,187.41" fill="none" stroke="#7cc242" stroke-width="1.5" stroke-linejoin="round"/>
<rect x="323.0" y="12.5" width="177.3" height="176.2" fill="none" stroke="#808080" stroke-width="1.4"/>
<g stroke="#7a7a7a" stroke-width="1"><line x1="367.32" y1="188.7" x2="367.32" y2="186.7"/><line x1="367.32" y1="12.5" x2="367.32" y2="14.5"/><line x1="411.65" y1="188.7" x2="411.65" y2="186.7"/><line x1="411.65" y1="12.5" x2="411.65" y2="14.5"/><line x1="455.98" y1="188.7" x2="455.98" y2="186.7"/><line x1="455.98" y1="12.5" x2="455.98" y2="14.5"/><line x1="323.0" y1="159.33" x2="325.0" y2="159.33"/><line x1="500.3" y1="159.33" x2="498.3" y2="159.33"/><line x1="323.0" y1="129.97" x2="325.0" y2="129.97"/><line x1="500.3" y1="129.97" x2="498.3" y2="129.97"/><line x1="323.0" y1="100.6" x2="325.0" y2="100.6"/><line x1="500.3" y1="100.6" x2="498.3" y2="100.6"/><line x1="323.0" y1="71.23" x2="325.0" y2="71.23"/><line x1="500.3" y1="71.23" x2="498.3" y2="71.23"/><line x1="323.0" y1="41.87" x2="325.0" y2="41.87"/><line x1="500.3" y1="41.87" x2="498.3" y2="41.87"/></g>
<text x="323" y="203.4" font-size="10" font-family="'Liberation Sans', sans-serif" fill="#262626" text-anchor="middle">0.9</text>
<text x="367.32" y="203.4" font-size="10" font-family="'Liberation Sans', sans-serif" fill="#262626" text-anchor="middle">0.95</text>
<text x="411.65" y="203.4" font-size="10" font-family="'Liberation Sans', sans-serif" fill="#262626" text-anchor="middle">1</text>
<text x="455.98" y="203.4" font-size="10" font-family="'Liberation Sans', sans-serif" fill="#262626" text-anchor="middle">1.05</text>
<text x="500.3" y="203.4" font-size="10" font-family="'Liberation Sans', sans-serif" fill="#262626" text-anchor="middle">1.1</text>
<text x="319.5" y="192.3" font-size="10" font-family="'Liberation Sans', sans-serif" fill="#262626" text-anchor="end">0</text>
<text x="319.5" y="162.93" font-size="10" font-family="'Liberation Sans', sans-serif" fill="#262626" text-anchor="end">500</text>
<text x="319.5" y="133.57" font-size="10" font-family="'Liberation Sans', sans-serif" fill="#262626" text-anchor="end">1000</text>
<text x="319.5" y="104.2" font-size="10" font-family="'Liberation Sans', sans-serif" fill="#262626" text-anchor="end">1500</text>
<text x="319.5" y="74.83" font-size="10" font-family="'Liberation Sans', sans-serif" fill="#262626" text-anchor="end">2000</text>
<text x="319.5" y="45.47" font-size="10" font-family="'Liberation Sans', sans-serif" fill="#262626" text-anchor="end">2500</text>
<text x="319.5" y="16.1" font-size="10" font-family="'Liberation Sans', sans-serif" fill="#262626" text-anchor="end">3000</text>
<text transform="translate(290.6,139.6) rotate(-90)" font-size="11.6" font-family="'Liberation Sans', sans-serif" fill="#262626" textLength="76.5" lengthAdjust="spacing">&#967;<tspan font-size="8.4" dy="4">X</tspan><tspan dy="-4">=</tspan><tspan font-size="12.5">&#916;</tspan><tspan font-style="italic">m</tspan><tspan font-size="8.4" dy="4">Xac</tspan><tspan dy="-4">/</tspan><tspan font-style="italic">h</tspan><tspan font-size="8.4" dy="4">Xac</tspan></text>
<text x="334.6" y="216.2" font-size="10.8" font-family="'Liberation Sans', sans-serif" fill="#262626">Normalized magnetic field (<tspan font-style="italic">h</tspan><tspan font-size="8.6" dy="5.3" dx="0.8">Zdc</tspan><tspan dy="-5.3">)</tspan></text>
<text x="3" y="230.2" font-size="15" font-family="'Liberation Serif', serif" fill="#000" font-weight="bold">(c)</text>
<rect x="16.5" y="285.5" width="33.5" height="114" stroke="#1a1a1a" stroke-width="1.2" fill="none"/>
<path d="M16.5 285.5 L50 399.5 M50 285.5 L16.5 399.5" stroke="#1a1a1a" stroke-width="1.2" fill="none" stroke-width="1"/>
<rect x="180.7" y="285.3" width="33" height="114.2" stroke="#1a1a1a" stroke-width="1.2" fill="none"/>
<path d="M180.7 285.3 L213.7 399.5 M213.7 285.3 L180.7 399.5" stroke="#1a1a1a" stroke-width="1.2" fill="none" stroke-width="1"/>
<rect x="57.8" y="277.2" width="116" height="131.2" rx="22" ry="22" stroke="#1a1a1a" stroke-width="1.2" fill="none" stroke-width="1.3"/>
<rect x="65.6" y="284.6" width="46" height="116.2" rx="17" ry="17" stroke="#1a1a1a" stroke-width="1.2" fill="none" stroke-width="1.3"/>
<rect x="119" y="284.6" width="48" height="116.2" rx="17" ry="17" stroke="#1a1a1a" stroke-width="1.2" fill="none" stroke-width="1.3"/>
<rect x="73" y="292" width="7" height="101" fill="#000"/>
<rect x="85.3" y="292" width="7" height="101" fill="#000"/>
<rect x="98" y="292" width="7" height="101" fill="#000"/>
<line x1="116" y1="408.5" x2="116" y2="258" stroke="#1a1a1a" stroke-width="1.3" stroke-dasharray="5 3.5"/>
<polygon points="116.2,250.4 112.8,258.8 119.6,258.8" fill="#000"/>
<text x="107.7" y="242" font-size="10" font-family="'Liberation Serif', serif" fill="#000" ><tspan font-style="italic">H</tspan><tspan font-size="6.5" dy="1">Zdc</tspan></text>
<line x1="116" y1="342.4" x2="237" y2="342.4" stroke="#1a1a1a" stroke-width="1.3" stroke-dasharray="5 3.5"/>
<polygon points="246.1,342.4 236.6,339.8 236.6,345.2" fill="#000"/>
<text x="243" y="337.7" font-size="8.5" font-family="'Liberation Serif', serif" fill="#000" >Y</text>
<line x1="57" y1="275.4" x2="62.59" y2="280.99" stroke="#1a1a1a" stroke-width="0.9" stroke-dasharray="2 1.4"/><polygon points="64.2,282.6 60.31,281.12 62.72,278.71" fill="#1a1a1a"/>
<line x1="80" y1="268.5" x2="80" y2="281.72" stroke="#1a1a1a" stroke-width="0.9" stroke-dasharray="2 1.4"/><polygon points="80,284 78.3,280.2 81.7,280.2" fill="#1a1a1a"/>
<line x1="152.5" y1="268" x2="152.5" y2="281.92" stroke="#1a1a1a" stroke-width="0.9" stroke-dasharray="2 1.4"/><polygon points="152.5,284.2 150.8,280.4 154.2,280.4" fill="#1a1a1a"/>
<line x1="80.4" y1="416.5" x2="76.9" y2="396.74" stroke="#1a1a1a" stroke-width="0.9" stroke-dasharray="2 1.4"/><polygon points="76.5,394.5 78.84,397.94 75.49,398.54" fill="#1a1a1a"/>
<line x1="89" y1="416.5" x2="89" y2="396.78" stroke="#1a1a1a" stroke-width="0.9" stroke-dasharray="2 1.4"/><polygon points="89,394.5 90.7,398.3 87.3,398.3" fill="#1a1a1a"/>
<line x1="96.7" y1="416.5" x2="101.01" y2="396.73" stroke="#1a1a1a" stroke-width="0.9" stroke-dasharray="2 1.4"/><polygon points="101.5,394.5 102.35,398.58 99.03,397.85" fill="#1a1a1a"/>
<line x1="196.9" y1="400.8" x2="196.9" y2="412.52" stroke="#1a1a1a" stroke-width="0.9" stroke-dasharray="2 1.4"/><polygon points="196.9,414.8 195.2,411 198.6,411" fill="#1a1a1a"/>
<text x="38.5" y="253.8" font-size="8.6" font-family="'Liberation Serif', serif" fill="#000" stroke="#000" stroke-width="0.2" text-anchor="middle">1<tspan font-style="italic">f</tspan></text>
<text x="37.3" y="263" font-size="8.6" font-family="'Liberation Serif', serif" fill="#000" stroke="#000" stroke-width="0.2" text-anchor="middle">Transverse</text>
<text x="37.3" y="273.4" font-size="8.6" font-family="'Liberation Serif', serif" fill="#000" stroke="#000" stroke-width="0.2" text-anchor="middle">Drive Coil</text>
<text x="80.2" y="257" font-size="8.6" font-family="'Liberation Serif', serif" fill="#000" stroke="#000" stroke-width="0.2" text-anchor="middle">Detect</text>
<text x="80.6" y="267" font-size="8.6" font-family="'Liberation Serif', serif" fill="#000" stroke="#000" stroke-width="0.2" text-anchor="middle">Coil</text>
<text x="152.3" y="256.5" font-size="8.6" font-family="'Liberation Serif', serif" fill="#000" stroke="#000" stroke-width="0.2" text-anchor="middle">Balance</text>
<text x="152.8" y="266.5" font-size="8.6" font-family="'Liberation Serif', serif" fill="#000" stroke="#000" stroke-width="0.2" text-anchor="middle">Coil</text>
<text x="88" y="424.6" font-size="8.6" font-family="'Liberation Serif', serif" fill="#000" stroke="#000" stroke-width="0.2" text-anchor="middle">Magnetic</text>
<text x="88.5" y="435" font-size="8.6" font-family="'Liberation Serif', serif" fill="#000" stroke="#000" stroke-width="0.2" text-anchor="middle">Nanoparticle Audio</text>
<text x="88.5" y="445.2" font-size="8.6" font-family="'Liberation Serif', serif" fill="#000" stroke="#000" stroke-width="0.2" text-anchor="middle">Tape Layers</text>
<text x="197.3" y="426" font-size="8.6" font-family="'Liberation Serif', serif" fill="#000" stroke="#000" stroke-width="0.2" text-anchor="middle">2<tspan font-style="italic">f</tspan></text>
<text x="196.8" y="436.2" font-size="8.6" font-family="'Liberation Serif', serif" fill="#000" stroke="#000" stroke-width="0.2" text-anchor="middle">Parametric</text>
<text x="196.9" y="445.8" font-size="8.6" font-family="'Liberation Serif', serif" fill="#000" stroke="#000" stroke-width="0.2" text-anchor="middle">Drive Coil</text>
<text x="252.8" y="230.2" font-size="15" font-family="'Liberation Serif', serif" fill="#000" font-weight="bold">(d)</text>
<g stroke="#e6e6e6" stroke-width="1"><line x1="323.97" y1="239.3" x2="323.97" y2="416.6"/><line x1="345.14" y1="239.3" x2="345.14" y2="416.6"/><line x1="366.31" y1="239.3" x2="366.31" y2="416.6"/><line x1="387.48" y1="239.3" x2="387.48" y2="416.6"/><line x1="429.82" y1="239.3" x2="429.82" y2="416.6"/><line x1="450.99" y1="239.3" x2="450.99" y2="416.6"/><line x1="472.16" y1="239.3" x2="472.16" y2="416.6"/><line x1="493.33" y1="239.3" x2="493.33" y2="416.6"/><line x1="302.8" y1="381.14" x2="514.5" y2="381.14"/><line x1="302.8" y1="345.68" x2="514.5" y2="345.68"/><line x1="302.8" y1="310.22" x2="514.5" y2="310.22"/><line x1="302.8" y1="274.76" x2="514.5" y2="274.76"/></g>
<polyline points="302.8,402.9 303.15,402.84 303.51,402.78 303.86,402.72 304.21,402.65 304.56,402.59 304.92,402.52 305.27,402.45 305.62,402.38 305.98,402.31 306.33,402.24 306.68,402.16 307.03,402.08 307.39,402.01 307.74,401.93 308.09,401.85 308.45,401.77 308.8,401.68 309.15,401.6 309.5,401.51 309.86,401.43 310.21,401.34 310.56,401.25 310.92,401.16 311.27,401.07 311.62,400.97 311.97,400.88 312.33,400.79 312.68,400.69 313.03,400.59 313.38,400.49 313.74,400.39 314.09,400.29 314.44,400.19 314.8,400.09 315.15,399.99 315.5,399.88 315.85,399.78 316.21,399.67 316.56,399.56 316.91,399.46 317.27,399.35 317.62,399.24 317.97,399.13 318.32,399.02 318.68,398.91 319.03,398.79 319.38,398.68 319.74,398.57 320.09,398.45 320.44,398.34 320.79,398.22 321.15,398.1 321.5,397.99 321.85,397.87 322.21,397.75 322.56,397.63 322.91,397.51 323.26,397.39 323.62,397.27 323.97,397.15 324.32,397.03 324.68,396.9 325.03,396.77 325.38,396.64 325.73,396.5 326.09,396.37 326.44,396.22 326.79,396.08 327.15,395.94 327.5,395.79 327.85,395.64 328.2,395.48 328.56,395.33 328.91,395.17 329.26,395.01 329.62,394.85 329.97,394.69 330.32,394.53 330.67,394.37 331.03,394.2 331.38,394.04 331.73,393.87 332.09,393.7 332.44,393.53 332.79,393.36 333.14,393.19 333.5,393.02 333.85,392.85 334.2,392.68 334.56,392.51 334.91,392.34 335.26,392.18 335.61,392.01 335.97,391.84 336.32,391.67 336.67,391.5 337.02,391.34 337.38,391.17 337.73,391.01 338.08,390.85 338.44,390.69 338.79,390.53 339.14,390.38 339.49,390.23 339.85,390.08 340.2,389.93 340.55,389.78 340.91,389.63 341.26,389.48 341.61,389.33 341.96,389.17 342.32,389.01 342.67,388.85 343.02,388.68 343.38,388.51 343.73,388.33 344.08,388.14 344.43,387.95 344.79,387.75 345.14,387.54 345.49,387.32 345.85,387.09 346.2,386.85 346.55,386.61 346.9,386.35 347.26,386.09 347.61,385.82 347.96,385.55 348.32,385.26 348.67,384.97 349.02,384.67 349.37,384.37 349.73,384.06 350.08,383.74 350.43,383.41 350.79,383.08 351.14,382.75 351.49,382.4 351.84,382.05 352.2,381.7 352.55,381.34 352.9,380.97 353.26,380.6 353.61,380.22 353.96,379.84 354.31,379.46 354.67,379.07 355.02,378.67 355.37,378.27 355.73,377.87 356.08,377.46 356.43,377.05 356.78,376.63 357.14,376.21 357.49,375.79 357.84,375.36 358.19,374.93 358.55,374.5 358.9,374.06 359.25,373.63 359.61,373.19 359.96,372.74 360.31,372.3 360.66,371.85 361.02,371.4 361.37,370.95 361.72,370.49 362.08,370.03 362.43,369.56 362.78,369.08 363.13,368.6 363.49,368.11 363.84,367.61 364.19,367.1 364.55,366.58 364.9,366.04 365.25,365.49 365.6,364.93 365.96,364.36 366.31,363.77 366.66,363.16 367.02,362.54 367.37,361.89 367.72,361.23 368.07,360.55 368.43,359.85 368.78,359.13 369.13,358.38 369.49,357.62 369.84,356.83 370.19,356.01 370.54,355.12 370.9,354.14 371.25,353.09 371.6,351.96 371.96,350.76 372.31,349.51 372.66,348.2 373.01,346.84 373.37,345.44 373.72,344.01 374.07,342.56 374.43,341.08 374.78,339.59 375.13,338.09 375.48,336.59 375.84,335.1 376.19,333.62 376.54,332.17 376.89,330.73 377.25,329.33 377.6,327.9 377.95,326.46 378.31,325.01 378.66,323.55 379.01,322.07 379.36,320.59 379.72,319.09 380.07,317.59 380.42,316.09 380.78,314.59 381.13,313.08 381.48,311.58 381.83,310.08 382.19,308.58 382.54,307.09 382.89,305.6 383.25,304.11 383.6,302.61 383.95,301.12 384.3,299.61 384.66,298.1 385.01,296.57 385.36,295.03 385.72,293.48 386.07,291.9 386.42,290.3 386.77,288.65 387.13,286.9 387.48,285.08 387.83,283.23 388.19,281.4 388.54,279.62 388.89,277.94 389.24,276.39 389.6,275.01 389.95,273.66 390.3,272.25 390.66,270.89 391.01,269.67 391.36,268.7 391.71,268.08 392.07,267.92 392.42,268.12 392.77,268.58 393.13,269.25 393.48,270.11 393.83,271.12 394.18,272.24 394.54,273.43 394.89,275.07 395.24,277.42 395.6,280.28 395.95,283.46 396.3,286.76 396.65,289.98 397.01,293.26 397.36,296.77 397.71,300.45 398.06,304.18 398.42,307.9 398.77,311.5 399.12,315.03 399.48,318.54 399.83,322.08 400.18,325.68 400.53,329.41 400.89,333.35 401.24,337.55 401.59,341.83 401.95,346 402.3,349.87 402.65,353.47 403,356.94 403.36,360.28 403.71,363.5 404.06,366.59 404.42,369.57 404.77,372.49 405.12,375.37 405.47,378.16 405.83,380.79 406.18,383.2 406.53,385.33 406.89,387.4 407.24,389.53 407.59,391.54 407.94,393.21 408.3,394.36 408.65,394.79 409,394.36 409.36,393.26 409.71,391.74 410.06,390.06 410.41,388 410.77,385.28 411.12,382.06 411.47,378.52 411.83,374.83 412.18,371.15 412.53,367.52 412.88,363.79 413.24,359.83 413.59,355.5 413.94,350.68 414.3,345.15 414.65,338.17 415,330.28 415.35,322.26 415.71,314.35 416.06,306.09 416.41,298.1 416.77,291.02 417.12,284.5 417.47,278.37 417.82,272.8 418.18,267.99 418.53,263.82 418.88,259.85 419.24,256.2 419.59,253.04 419.94,250.49 420.29,248.7 420.65,247.22 421,245.86 421.35,244.7 421.7,243.8 422.06,243.24 422.41,243.11 422.76,243.41 423.12,244.08 423.47,245.01 423.82,246.11 424.17,247.29 424.53,248.45 424.88,249.76 425.23,251.3 425.59,253.02 425.94,254.87 426.29,256.82 426.64,258.82 427,260.82 427.35,262.79 427.7,264.83 428.06,266.96 428.41,269.16 428.76,271.4 429.11,273.65 429.47,275.88 429.82,278.05 430.17,280.15 430.53,282.22 430.88,284.29 431.23,286.34 431.58,288.38 431.94,290.4 432.29,292.39 432.64,294.36 433,296.28 433.35,298.17 433.7,300.01 434.05,301.8 434.41,303.55 434.76,305.27 435.11,306.97 435.47,308.64 435.82,310.29 436.17,311.91 436.52,313.51 436.88,315.09 437.23,316.65 437.58,318.19 437.94,319.71 438.29,321.2 438.64,322.68 438.99,324.14 439.35,325.59 439.7,327.02 440.05,328.44 440.4,329.88 440.76,331.32 441.11,332.76 441.46,334.2 441.82,335.64 442.17,337.06 442.52,338.47 442.87,339.87 443.23,341.25 443.58,342.6 443.93,343.92 444.29,345.22 444.64,346.48 444.99,347.7 445.34,348.88 445.7,350.01 446.05,351.1 446.4,352.13 446.76,353.11 447.11,354.03 447.46,354.9 447.81,355.75 448.17,356.58 448.52,357.39 448.87,358.18 449.23,358.96 449.58,359.72 449.93,360.46 450.28,361.18 450.64,361.89 450.99,362.59 451.34,363.27 451.7,363.93 452.05,364.58 452.4,365.21 452.75,365.83 453.11,366.44 453.46,367.03 453.81,367.61 454.17,368.17 454.52,368.73 454.87,369.27 455.22,369.8 455.58,370.32 455.93,370.82 456.28,371.32 456.64,371.81 456.99,372.28 457.34,372.75 457.69,373.21 458.05,373.67 458.4,374.12 458.75,374.57 459.11,375.02 459.46,375.46 459.81,375.89 460.16,376.32 460.52,376.75 460.87,377.17 461.22,377.58 461.57,377.99 461.93,378.4 462.28,378.8 462.63,379.19 462.99,379.58 463.34,379.97 463.69,380.35 464.04,380.72 464.4,381.08 464.75,381.45 465.1,381.8 465.46,382.15 465.81,382.49 466.16,382.83 466.51,383.16 466.87,383.48 467.22,383.8 467.57,384.11 467.93,384.42 468.28,384.72 468.63,385.01 468.98,385.29 469.34,385.57 469.69,385.84 470.04,386.11 470.4,386.36 470.75,386.61 471.1,386.85 471.45,387.09 471.81,387.32 472.16,387.54 472.51,387.75 472.87,387.95 473.22,388.14 473.57,388.33 473.92,388.51 474.28,388.68 474.63,388.85 474.98,389.01 475.34,389.17 475.69,389.33 476.04,389.48 476.39,389.63 476.75,389.78 477.1,389.93 477.45,390.08 477.81,390.23 478.16,390.38 478.51,390.53 478.86,390.69 479.22,390.85 479.57,391.01 479.92,391.17 480.28,391.34 480.63,391.5 480.98,391.67 481.33,391.84 481.69,392.01 482.04,392.18 482.39,392.34 482.75,392.51 483.1,392.68 483.45,392.85 483.8,393.02 484.16,393.19 484.51,393.36 484.86,393.53 485.21,393.7 485.57,393.87 485.92,394.04 486.27,394.2 486.63,394.37 486.98,394.53 487.33,394.69 487.68,394.85 488.04,395.01 488.39,395.17 488.74,395.33 489.1,395.48 489.45,395.64 489.8,395.79 490.15,395.94 490.51,396.08 490.86,396.22 491.21,396.37 491.57,396.5 491.92,396.64 492.27,396.77 492.62,396.9 492.98,397.03 493.33,397.15 493.68,397.27 494.04,397.39 494.39,397.51 494.74,397.63 495.09,397.75 495.45,397.87 495.8,397.99 496.15,398.1 496.51,398.22 496.86,398.34 497.21,398.45 497.56,398.57 497.92,398.68 498.27,398.79 498.62,398.91 498.98,399.02 499.33,399.13 499.68,399.24 500.03,399.35 500.39,399.46 500.74,399.56 501.09,399.67 501.45,399.78 501.8,399.88 502.15,399.99 502.5,400.09 502.86,400.19 503.21,400.29 503.56,400.39 503.91,400.49 504.27,400.59 504.62,400.69 504.97,400.79 505.33,400.88 505.68,400.97 506.03,401.07 506.38,401.16 506.74,401.25 507.09,401.34 507.44,401.43 507.8,401.51 508.15,401.6 508.5,401.68 508.85,401.77 509.21,401.85 509.56,401.93 509.91,402.01 510.27,402.08 510.62,402.16 510.97,402.24 511.32,402.31 511.68,402.38 512.03,402.45 512.38,402.52 512.74,402.59 513.09,402.65 513.44,402.72 513.79,402.78 514.15,402.84 514.5,402.9" fill="none" stroke="#d60f0f" stroke-width="1.3"/><polygon points="302.8,400.7 300.82,404.22 304.78,404.22" fill="#d60f0f"/><polygon points="303.86,400.52 301.88,404.04 305.84,404.04" fill="#d60f0f"/><polygon points="304.92,400.32 302.94,403.84 306.9,403.84" fill="#d60f0f"/><polygon points="306.01,400.1 304.03,403.62 307.99,403.62" fill="#d60f0f"/><polygon points="307.07,399.88 305.09,403.4 309.05,403.4" fill="#d60f0f"/><polygon points="308.13,399.64 306.15,403.16 310.11,403.16" fill="#d60f0f"/><polygon points="309.22,399.38 307.24,402.9 311.2,402.9" fill="#d60f0f"/><polygon points="310.28,399.12 308.3,402.64 312.26,402.64" fill="#d60f0f"/><polygon points="311.34,398.85 309.36,402.37 313.32,402.37" fill="#d60f0f"/><polygon points="312.43,398.56 310.45,402.08 314.41,402.08" fill="#d60f0f"/><polygon points="313.49,398.26 311.51,401.78 315.47,401.78" fill="#d60f0f"/><polygon points="314.58,397.95 312.6,401.47 316.56,401.47" fill="#d60f0f"/><polygon points="315.64,397.64 313.66,401.16 317.62,401.16" fill="#d60f0f"/><polygon points="316.7,397.32 314.72,400.84 318.68,400.84" fill="#d60f0f"/><polygon points="317.76,396.99 315.78,400.51 319.74,400.51" fill="#d60f0f"/><polygon points="318.85,396.65 316.87,400.17 320.83,400.17" fill="#d60f0f"/><polygon points="319.91,396.31 317.93,399.83 321.89,399.83" fill="#d60f0f"/><polygon points="321.01,395.95 319.03,399.47 322.99,399.47" fill="#d60f0f"/><polygon points="322.06,395.6 320.08,399.12 324.04,399.12" fill="#d60f0f"/><polygon points="323.16,395.23 321.18,398.75 325.14,398.75" fill="#d60f0f"/><polygon points="324.22,394.86 322.24,398.38 326.2,398.38" fill="#d60f0f"/><polygon points="325.28,394.48 323.3,398 327.26,398" fill="#d60f0f"/><polygon points="326.33,394.07 324.35,397.59 328.31,397.59" fill="#d60f0f"/><polygon points="327.43,393.62 325.45,397.14 329.41,397.14" fill="#d60f0f"/><polygon points="328.49,393.16 326.51,396.68 330.47,396.68" fill="#d60f0f"/><polygon points="329.58,392.67 327.6,396.19 331.56,396.19" fill="#d60f0f"/><polygon points="330.64,392.18 328.66,395.7 332.62,395.7" fill="#d60f0f"/><polygon points="331.73,391.67 329.75,395.19 333.71,395.19" fill="#d60f0f"/><polygon points="332.79,391.16 330.81,394.68 334.77,394.68" fill="#d60f0f"/><polygon points="333.85,390.65 331.87,394.17 335.83,394.17" fill="#d60f0f"/><polygon points="334.91,390.14 332.93,393.66 336.89,393.66" fill="#d60f0f"/><polygon points="336,389.62 334.02,393.14 337.98,393.14" fill="#d60f0f"/><polygon points="337.06,389.12 335.08,392.64 339.04,392.64" fill="#d60f0f"/><polygon points="338.15,388.61 336.17,392.13 340.13,392.13" fill="#d60f0f"/><polygon points="339.21,388.15 337.23,391.67 341.19,391.67" fill="#d60f0f"/><polygon points="340.27,387.7 338.29,391.22 342.25,391.22" fill="#d60f0f"/><polygon points="341.33,387.25 339.35,390.77 343.31,390.77" fill="#d60f0f"/><polygon points="342.42,386.76 340.44,390.28 344.4,390.28" fill="#d60f0f"/><polygon points="343.48,386.26 341.5,389.78 345.46,389.78" fill="#d60f0f"/><polygon points="344.58,385.67 342.6,389.19 346.56,389.19" fill="#d60f0f"/><polygon points="345.63,385.03 343.65,388.55 347.61,388.55" fill="#d60f0f"/><polygon points="346.73,384.28 344.75,387.8 348.71,387.8" fill="#d60f0f"/><polygon points="347.82,383.46 345.84,386.98 349.8,386.98" fill="#d60f0f"/><polygon points="348.88,382.59 346.9,386.11 350.86,386.11" fill="#d60f0f"/><polygon points="349.97,381.64 347.99,385.16 351.95,385.16" fill="#d60f0f"/><polygon points="351.03,380.65 349.05,384.17 353.01,384.17" fill="#d60f0f"/><polygon points="352.13,379.57 350.15,383.09 354.11,383.09" fill="#d60f0f"/><polygon points="353.18,378.48 351.2,382 355.16,382" fill="#d60f0f"/><polygon points="354.28,377.3 352.3,380.82 356.26,380.82" fill="#d60f0f"/><polygon points="355.34,376.11 353.36,379.63 357.32,379.63" fill="#d60f0f"/><polygon points="356.43,374.85 354.45,378.37 358.41,378.37" fill="#d60f0f"/><polygon points="357.52,373.55 355.54,377.07 359.5,377.07" fill="#d60f0f"/><polygon points="358.58,372.26 356.6,375.78 360.56,375.78" fill="#d60f0f"/><polygon points="359.68,370.9 357.7,374.42 361.66,374.42" fill="#d60f0f"/><polygon points="360.74,369.56 358.76,373.08 362.72,373.08" fill="#d60f0f"/><polygon points="361.83,368.15 359.85,371.67 363.81,371.67" fill="#d60f0f"/><polygon points="362.89,366.74 360.91,370.26 364.87,370.26" fill="#d60f0f"/><polygon points="363.95,365.26 361.97,368.78 365.93,368.78" fill="#d60f0f"/><polygon points="365.04,363.62 363.06,367.14 367.02,367.14" fill="#d60f0f"/><polygon points="366.1,361.92 364.12,365.44 368.08,365.44" fill="#d60f0f"/><polygon points="367.16,360.08 365.18,363.6 369.14,363.6" fill="#d60f0f"/><polygon points="368.25,358.01 366.27,361.53 370.23,361.53" fill="#d60f0f"/><polygon points="369.31,355.8 367.33,359.32 371.29,359.32" fill="#d60f0f"/><polygon points="370.37,353.37 368.39,356.89 372.35,356.89" fill="#d60f0f"/><polygon points="371.46,350.22 369.48,353.74 373.44,353.74" fill="#d60f0f"/><polygon points="372.52,346.53 370.54,350.05 374.5,350.05" fill="#d60f0f"/><polygon points="373.61,342.25 371.63,345.77 375.59,345.77" fill="#d60f0f"/><polygon points="374.67,337.84 372.69,341.36 376.65,341.36" fill="#d60f0f"/><polygon points="375.73,333.35 373.75,336.87 377.71,336.87" fill="#d60f0f"/><polygon points="376.82,328.82 374.84,332.34 378.8,332.34" fill="#d60f0f"/><polygon points="377.88,324.55 375.9,328.07 379.86,328.07" fill="#d60f0f"/><polygon points="378.94,320.17 376.96,323.69 380.92,323.69" fill="#d60f0f"/><polygon points="380.04,315.54 378.06,319.06 382.02,319.06" fill="#d60f0f"/><polygon points="381.09,311.03 379.11,314.55 383.07,314.55" fill="#d60f0f"/><polygon points="382.15,306.53 380.17,310.05 384.13,310.05" fill="#d60f0f"/><polygon points="383.25,301.91 381.27,305.43 385.23,305.43" fill="#d60f0f"/><polygon points="384.3,297.41 382.32,300.93 386.28,300.93" fill="#d60f0f"/><polygon points="385.36,292.83 383.38,296.35 387.34,296.35" fill="#d60f0f"/><polygon points="386.39,288.26 384.41,291.78 388.37,291.78" fill="#d60f0f"/><polygon points="387.34,283.61 385.36,287.13 389.32,287.13" fill="#d60f0f"/><polygon points="388.22,279.02 386.24,282.54 390.2,282.54" fill="#d60f0f"/><polygon points="389.17,274.49 387.19,278.01 391.15,278.01" fill="#d60f0f"/><polygon points="390.23,270.34 388.25,273.86 392.21,273.86" fill="#d60f0f"/><polygon points="391.29,266.67 389.31,270.19 393.27,270.19" fill="#d60f0f"/><polygon points="392.38,265.89 390.4,269.41 394.36,269.41" fill="#d60f0f"/><polygon points="393.44,267.82 391.46,271.34 395.42,271.34" fill="#d60f0f"/><polygon points="394.5,271.11 392.52,274.63 396.48,274.63" fill="#d60f0f"/><polygon points="395.31,275.76 393.33,279.28 397.29,279.28" fill="#d60f0f"/><polygon points="395.88,280.61 393.9,284.13 397.86,284.13" fill="#d60f0f"/><polygon points="396.37,285.21 394.39,288.73 398.35,288.73" fill="#d60f0f"/><polygon points="396.9,290.04 394.92,293.56 398.88,293.56" fill="#d60f0f"/><polygon points="397.39,294.94 395.41,298.46 399.37,298.46" fill="#d60f0f"/><polygon points="397.85,299.74 395.87,303.26 399.83,303.26" fill="#d60f0f"/><polygon points="398.31,304.59 396.33,308.11 400.29,308.11" fill="#d60f0f"/><polygon points="398.77,309.3 396.79,312.82 400.75,312.82" fill="#d60f0f"/><polygon points="399.23,313.89 397.25,317.41 401.21,317.41" fill="#d60f0f"/><polygon points="399.72,318.81 397.74,322.33 401.7,322.33" fill="#d60f0f"/><polygon points="400.18,323.48 398.2,327 402.16,327" fill="#d60f0f"/><polygon points="400.64,328.36 398.66,331.88 402.62,331.88" fill="#d60f0f"/><polygon points="401.06,333.23 399.08,336.75 403.04,336.75" fill="#d60f0f"/><polygon points="401.45,337.92 399.47,341.44 403.43,341.44" fill="#d60f0f"/><polygon points="401.84,342.57 399.86,346.09 403.82,346.09" fill="#d60f0f"/><polygon points="402.26,347.3 400.28,350.82 404.24,350.82" fill="#d60f0f"/><polygon points="402.72,351.97 400.74,355.49 404.7,355.49" fill="#d60f0f"/><polygon points="403.22,356.76 401.24,360.28 405.2,360.28" fill="#d60f0f"/><polygon points="403.75,361.61 401.77,365.13 405.73,365.13" fill="#d60f0f"/><polygon points="404.27,366.19 402.29,369.71 406.25,369.71" fill="#d60f0f"/><polygon points="404.84,370.87 402.86,374.39 406.82,374.39" fill="#d60f0f"/><polygon points="405.44,375.69 403.46,379.21 407.42,379.21" fill="#d60f0f"/><polygon points="406.07,380.3 404.09,383.82 408.05,383.82" fill="#d60f0f"/><polygon points="406.85,384.99 404.87,388.51 408.83,388.51" fill="#d60f0f"/><polygon points="407.63,389.52 405.65,393.04 409.61,393.04" fill="#d60f0f"/><polygon points="408.69,392.58 406.71,396.1 410.67,396.1" fill="#d60f0f"/><polygon points="409.74,389.37 407.76,392.89 411.72,392.89" fill="#d60f0f"/><polygon points="410.56,384.78 408.58,388.3 412.54,388.3" fill="#d60f0f"/><polygon points="411.08,380.2 409.1,383.72 413.06,383.72" fill="#d60f0f"/><polygon points="411.54,375.59 409.56,379.11 413.52,379.11" fill="#d60f0f"/><polygon points="412,370.77 410.02,374.29 413.98,374.29" fill="#d60f0f"/><polygon points="412.46,366.05 410.48,369.57 414.44,369.57" fill="#d60f0f"/><polygon points="412.92,361.21 410.94,364.73 414.9,364.73" fill="#d60f0f"/><polygon points="413.34,356.37 411.36,359.89 415.32,359.89" fill="#d60f0f"/><polygon points="413.73,351.44 411.75,354.96 415.71,354.96" fill="#d60f0f"/><polygon points="414.08,346.39 412.1,349.91 416.06,349.91" fill="#d60f0f"/><polygon points="414.37,341.67 412.39,345.19 416.35,345.19" fill="#d60f0f"/><polygon points="414.61,336.73 412.63,340.25 416.59,340.25" fill="#d60f0f"/><polygon points="414.82,332.09 412.84,335.61 416.8,335.61" fill="#d60f0f"/><polygon points="415.04,327.27 413.06,330.79 417.02,330.79" fill="#d60f0f"/><polygon points="415.25,322.43 413.27,325.95 417.23,325.95" fill="#d60f0f"/><polygon points="415.46,317.74 413.48,321.26 417.44,321.26" fill="#d60f0f"/><polygon points="415.67,312.97 413.69,316.49 417.65,316.49" fill="#d60f0f"/><polygon points="415.88,308.03 413.9,311.55 417.86,311.55" fill="#d60f0f"/><polygon points="416.09,303.06 414.11,306.58 418.07,306.58" fill="#d60f0f"/><polygon points="416.31,298.23 414.33,301.75 418.29,301.75" fill="#d60f0f"/><polygon points="416.55,292.92 414.57,296.44 418.53,296.44" fill="#d60f0f"/><polygon points="416.8,288.15 414.82,291.67 418.78,291.67" fill="#d60f0f"/><polygon points="417.08,282.94 415.1,286.46 419.06,286.46" fill="#d60f0f"/><polygon points="417.36,277.96 415.38,281.48 419.34,281.48" fill="#d60f0f"/><polygon points="417.65,273.3 415.67,276.82 419.63,276.82" fill="#d60f0f"/><polygon points="417.96,268.57 415.98,272.09 419.94,272.09" fill="#d60f0f"/><polygon points="418.35,263.68 416.37,267.2 420.33,267.2" fill="#d60f0f"/><polygon points="418.78,258.81 416.8,262.33 420.76,262.33" fill="#d60f0f"/><polygon points="419.24,254 417.25,257.52 421.22,257.52" fill="#d60f0f"/><polygon points="419.8,249.23 417.82,252.75 421.78,252.75" fill="#d60f0f"/><polygon points="420.75,244.6 418.77,248.12 422.73,248.12" fill="#d60f0f"/><polygon points="421.81,241.39 419.83,244.91 423.79,244.91" fill="#d60f0f"/><polygon points="422.9,241.44 420.92,244.96 424.88,244.96" fill="#d60f0f"/><polygon points="423.96,244.38 421.98,247.9 425.94,247.9" fill="#d60f0f"/><polygon points="425.06,248.31 423.08,251.83 427.04,251.83" fill="#d60f0f"/><polygon points="425.97,252.86 423.99,256.38 427.95,256.38" fill="#d60f0f"/><polygon points="426.79,257.42 424.81,260.94 428.77,260.94" fill="#d60f0f"/><polygon points="427.6,262.01 425.62,265.53 429.58,265.53" fill="#d60f0f"/><polygon points="428.37,266.74 426.39,270.26 430.35,270.26" fill="#d60f0f"/><polygon points="429.11,271.45 427.13,274.97 431.09,274.97" fill="#d60f0f"/><polygon points="429.86,276.07 427.88,279.59 431.84,279.59" fill="#d60f0f"/><polygon points="430.63,280.64 428.65,284.16 432.61,284.16" fill="#d60f0f"/><polygon points="431.44,285.37 429.46,288.89 433.42,288.89" fill="#d60f0f"/><polygon points="432.25,289.99 430.27,293.51 434.23,293.51" fill="#d60f0f"/><polygon points="433.1,294.65 431.12,298.17 435.08,298.17" fill="#d60f0f"/><polygon points="433.98,299.25 432,302.77 435.96,302.77" fill="#d60f0f"/><polygon points="434.94,303.93 432.96,307.45 436.92,307.45" fill="#d60f0f"/><polygon points="435.92,308.58 433.94,312.1 437.9,312.1" fill="#d60f0f"/><polygon points="436.95,313.21 434.97,316.73 438.93,316.73" fill="#d60f0f"/><polygon points="438.01,317.81 436.03,321.33 439.99,321.33" fill="#d60f0f"/><polygon points="439.1,322.38 437.12,325.9 441.08,325.9" fill="#d60f0f"/><polygon points="440.19,326.82 438.21,330.34 442.17,330.34" fill="#d60f0f"/><polygon points="441.25,331.14 439.27,334.66 443.23,334.66" fill="#d60f0f"/><polygon points="442.35,335.57 440.37,339.09 444.33,339.09" fill="#d60f0f"/><polygon points="443.44,339.86 441.46,343.38 445.42,343.38" fill="#d60f0f"/><polygon points="444.5,343.78 442.52,347.3 446.48,347.3" fill="#d60f0f"/><polygon points="445.59,347.48 443.61,351 447.57,351" fill="#d60f0f"/><polygon points="446.65,350.62 444.67,354.14 448.63,354.14" fill="#d60f0f"/><polygon points="447.74,353.38 445.76,356.9 449.72,356.9" fill="#d60f0f"/><polygon points="448.8,355.82 446.82,359.34 450.78,359.34" fill="#d60f0f"/><polygon points="449.9,358.19 447.92,361.71 451.88,361.71" fill="#d60f0f"/><polygon points="450.95,360.32 448.97,363.84 452.93,363.84" fill="#d60f0f"/><polygon points="452.05,362.38 450.07,365.9 454.03,365.9" fill="#d60f0f"/><polygon points="453.14,364.29 451.16,367.81 455.12,367.81" fill="#d60f0f"/><polygon points="454.2,366.03 452.22,369.55 456.18,369.55" fill="#d60f0f"/><polygon points="455.29,367.7 453.31,371.22 457.27,371.22" fill="#d60f0f"/><polygon points="456.35,369.22 454.37,372.74 458.33,372.74" fill="#d60f0f"/><polygon points="457.45,370.69 455.47,374.21 459.43,374.21" fill="#d60f0f"/><polygon points="458.51,372.06 456.53,375.58 460.49,375.58" fill="#d60f0f"/><polygon points="459.6,373.43 457.62,376.95 461.58,376.95" fill="#d60f0f"/><polygon points="460.66,374.72 458.68,378.24 462.64,378.24" fill="#d60f0f"/><polygon points="461.75,376 459.77,379.52 463.73,379.52" fill="#d60f0f"/><polygon points="462.85,377.23 460.87,380.75 464.83,380.75" fill="#d60f0f"/><polygon points="463.9,378.37 461.92,381.89 465.88,381.89" fill="#d60f0f"/><polygon points="465,379.5 463.02,383.02 466.98,383.02" fill="#d60f0f"/><polygon points="466.06,380.53 464.08,384.05 468.04,384.05" fill="#d60f0f"/><polygon points="467.15,381.54 465.17,385.06 469.13,385.06" fill="#d60f0f"/><polygon points="468.21,382.46 466.23,385.98 470.19,385.98" fill="#d60f0f"/><polygon points="469.3,383.34 467.32,386.86 471.28,386.86" fill="#d60f0f"/><polygon points="470.36,384.14 468.38,387.66 472.34,387.66" fill="#d60f0f"/><polygon points="471.45,384.89 469.47,388.41 473.43,388.41" fill="#d60f0f"/><polygon points="472.55,385.57 470.57,389.09 474.53,389.09" fill="#d60f0f"/><polygon points="473.61,386.15 471.63,389.67 475.59,389.67" fill="#d60f0f"/><polygon points="474.7,386.68 472.72,390.2 476.68,390.2" fill="#d60f0f"/><polygon points="475.76,387.16 473.78,390.68 477.74,390.68" fill="#d60f0f"/><polygon points="476.85,387.62 474.87,391.14 478.83,391.14" fill="#d60f0f"/><polygon points="477.91,388.07 475.93,391.59 479.89,391.59" fill="#d60f0f"/><polygon points="479,388.55 477.02,392.07 480.98,392.07" fill="#d60f0f"/><polygon points="480.06,389.04 478.08,392.56 482.04,392.56" fill="#d60f0f"/><polygon points="481.16,389.55 479.18,393.07 483.14,393.07" fill="#d60f0f"/><polygon points="482.25,390.08 480.27,393.6 484.23,393.6" fill="#d60f0f"/><polygon points="483.31,390.59 481.33,394.11 485.29,394.11" fill="#d60f0f"/><polygon points="484.4,391.11 482.42,394.63 486.38,394.63" fill="#d60f0f"/><polygon points="485.46,391.62 483.48,395.14 487.44,395.14" fill="#d60f0f"/><polygon points="486.56,392.13 484.58,395.65 488.54,395.65" fill="#d60f0f"/><polygon points="487.61,392.62 485.63,396.14 489.59,396.14" fill="#d60f0f"/><polygon points="488.71,393.11 486.73,396.63 490.69,396.63" fill="#d60f0f"/><polygon points="489.77,393.57 487.79,397.09 491.75,397.09" fill="#d60f0f"/><polygon points="490.86,394.02 488.88,397.54 492.84,397.54" fill="#d60f0f"/><polygon points="491.95,394.45 489.97,397.97 493.93,397.97" fill="#d60f0f"/><polygon points="493.01,394.84 491.03,398.36 494.99,398.36" fill="#d60f0f"/><polygon points="494.11,395.22 492.13,398.74 496.09,398.74" fill="#d60f0f"/><polygon points="495.16,395.57 493.18,399.09 497.14,399.09" fill="#d60f0f"/><polygon points="496.26,395.94 494.28,399.46 498.24,399.46" fill="#d60f0f"/><polygon points="497.32,396.29 495.34,399.81 499.3,399.81" fill="#d60f0f"/><polygon points="498.41,396.64 496.43,400.16 500.39,400.16" fill="#d60f0f"/><polygon points="499.47,396.97 497.49,400.49 501.45,400.49" fill="#d60f0f"/><polygon points="500.56,397.31 498.58,400.83 502.54,400.83" fill="#d60f0f"/><polygon points="501.66,397.64 499.68,401.16 503.64,401.16" fill="#d60f0f"/><polygon points="502.72,397.95 500.74,401.47 504.7,401.47" fill="#d60f0f"/><polygon points="503.81,398.26 501.83,401.78 505.79,401.78" fill="#d60f0f"/><polygon points="504.87,398.56 502.89,402.08 506.85,402.08" fill="#d60f0f"/><polygon points="505.96,398.85 503.98,402.37 507.94,402.37" fill="#d60f0f"/><polygon points="507.02,399.12 505.04,402.64 509,402.64" fill="#d60f0f"/><polygon points="508.11,399.39 506.13,402.91 510.09,402.91" fill="#d60f0f"/><polygon points="509.17,399.64 507.19,403.16 511.15,403.16" fill="#d60f0f"/><polygon points="510.27,399.88 508.29,403.4 512.25,403.4" fill="#d60f0f"/><polygon points="511.36,400.12 509.38,403.64 513.34,403.64" fill="#d60f0f"/><polygon points="512.42,400.33 510.44,403.85 514.4,403.85" fill="#d60f0f"/><polygon points="513.51,400.53 511.53,404.05 515.49,404.05" fill="#d60f0f"/>
<polyline points="302.8,402.42 303.15,402.35 303.51,402.29 303.86,402.22 304.21,402.16 304.56,402.09 304.92,402.02 305.27,401.94 305.62,401.87 305.98,401.8 306.33,401.72 306.68,401.64 307.03,401.56 307.39,401.48 307.74,401.4 308.09,401.32 308.45,401.23 308.8,401.15 309.15,401.06 309.5,400.97 309.86,400.88 310.21,400.79 310.56,400.7 310.92,400.61 311.27,400.51 311.62,400.42 311.97,400.32 312.33,400.22 312.68,400.13 313.03,400.03 313.38,399.93 313.74,399.82 314.09,399.72 314.44,399.62 314.8,399.51 315.15,399.41 315.5,399.3 315.85,399.19 316.21,399.08 316.56,398.97 316.91,398.86 317.27,398.75 317.62,398.64 317.97,398.53 318.32,398.41 318.68,398.3 319.03,398.18 319.38,398.07 319.74,397.95 320.09,397.84 320.44,397.72 320.79,397.6 321.15,397.48 321.5,397.36 321.85,397.24 322.21,397.12 322.56,397 322.91,396.88 323.26,396.75 323.62,396.63 323.97,396.51 324.32,396.38 324.68,396.25 325.03,396.12 325.38,395.98 325.73,395.85 326.09,395.71 326.44,395.56 326.79,395.42 327.15,395.27 327.5,395.12 327.85,394.96 328.2,394.81 328.56,394.65 328.91,394.49 329.26,394.33 329.62,394.17 329.97,394.01 330.32,393.84 330.67,393.68 331.03,393.51 331.38,393.34 331.73,393.17 332.09,393 332.44,392.83 332.79,392.66 333.14,392.49 333.5,392.32 333.85,392.15 334.2,391.98 334.56,391.8 334.91,391.63 335.26,391.46 335.61,391.29 335.97,391.12 336.32,390.95 336.67,390.78 337.02,390.62 337.38,390.45 337.73,390.29 338.08,390.12 338.44,389.96 338.79,389.81 339.14,389.65 339.49,389.5 339.85,389.35 340.2,389.2 340.55,389.05 340.91,388.91 341.26,388.76 341.61,388.6 341.96,388.45 342.32,388.29 342.67,388.13 343.02,387.96 343.38,387.79 343.73,387.61 344.08,387.42 344.43,387.23 344.79,387.03 345.14,386.81 345.49,386.59 345.85,386.36 346.2,386.13 346.55,385.88 346.9,385.63 347.26,385.37 347.61,385.11 347.96,384.83 348.32,384.55 348.67,384.26 349.02,383.97 349.37,383.66 349.73,383.35 350.08,383.04 350.43,382.72 350.79,382.39 351.14,382.05 351.49,381.71 351.84,381.36 352.2,381.01 352.55,380.65 352.9,380.28 353.26,379.91 353.61,379.53 353.96,379.15 354.31,378.76 354.67,378.36 355.02,377.96 355.37,377.56 355.73,377.15 356.08,376.73 356.43,376.31 356.78,375.89 357.14,375.46 357.49,375.03 357.84,374.59 358.19,374.15 358.55,373.7 358.9,373.25 359.25,372.79 359.61,372.33 359.96,371.87 360.31,371.4 360.66,370.93 361.02,370.45 361.37,369.96 361.72,369.46 362.08,368.95 362.43,368.44 362.78,367.91 363.13,367.37 363.49,366.82 363.84,366.26 364.19,365.68 364.55,365.1 364.9,364.49 365.25,363.88 365.6,363.25 365.96,362.6 366.31,361.93 366.66,361.25 367.02,360.55 367.37,359.84 367.72,359.1 368.07,358.35 368.43,357.57 368.78,356.78 369.13,355.96 369.49,355.12 369.84,354.26 370.19,353.38 370.54,352.43 370.9,351.41 371.25,350.32 371.6,349.16 371.96,347.94 372.31,346.67 372.66,345.34 373.01,343.97 373.37,342.57 373.72,341.13 374.07,339.66 374.43,338.16 374.78,336.65 375.13,335.13 375.48,333.59 375.84,332.06 376.19,330.53 376.54,329 376.89,327.42 377.25,325.81 377.6,324.16 377.95,322.47 378.31,320.75 378.66,319.01 379.01,317.23 379.36,315.44 379.72,313.63 380.07,311.81 380.42,309.97 380.78,308.13 381.13,306.28 381.48,304.41 381.83,302.51 382.19,300.57 382.54,298.61 382.89,296.64 383.25,294.64 383.6,292.64 383.95,290.63 384.3,288.62 384.66,286.61 385.01,284.62 385.36,282.64 385.72,280.66 386.07,278.66 386.42,276.65 386.77,274.63 387.13,272.62 387.48,270.63 387.83,268.65 388.19,266.69 388.54,264.77 388.89,262.89 389.24,261.04 389.6,259.13 389.95,257.19 390.3,255.26 390.66,253.37 391.01,251.54 391.36,249.82 391.71,248.23 392.07,246.82 392.42,245.6 392.77,244.47 393.13,243.32 393.48,242.24 393.83,241.32 394.18,240.64 394.54,240.28 394.89,240.34 395.24,240.85 395.6,241.74 395.95,242.92 396.3,244.3 396.65,245.79 397.01,247.41 397.36,249.54 397.71,252.15 398.06,255.19 398.42,258.57 398.77,262.23 399.12,266.11 399.48,270.74 399.83,276.17 400.18,282.12 400.53,288.31 400.89,294.46 401.24,300.69 401.59,307.19 401.95,313.83 402.3,320.46 402.65,327.22 403,334.04 403.36,340.52 403.71,346.51 404.06,352.31 404.42,357.84 404.77,363.02 405.12,367.74 405.47,372.26 405.83,376.71 406.18,380.83 406.53,384.36 406.89,387.03 407.24,388.99 407.59,390.8 407.94,392.32 408.3,393.36 408.65,393.75 409,393.45 409.36,392.65 409.71,391.51 410.06,390.15 410.41,388.73 410.77,386.9 411.12,384.58 411.47,381.88 411.83,378.91 412.18,375.79 412.53,372.62 412.88,369.25 413.24,365.57 413.59,361.65 413.94,357.51 414.3,353.18 414.65,348.7 415,343.68 415.35,338.17 415.71,332.47 416.06,326.88 416.41,321.72 416.77,317.27 417.12,313.3 417.47,309.61 417.82,306.16 418.18,302.96 418.53,299.98 418.88,297.25 419.24,294.77 419.59,292.42 419.94,290.09 420.29,287.65 420.65,284.94 421,282.06 421.35,279.22 421.7,276.62 422.06,274.46 422.41,272.93 422.76,271.65 423.12,270.46 423.47,269.4 423.82,268.54 424.17,267.94 424.53,267.68 424.88,267.75 425.23,268.08 425.59,268.6 425.94,269.26 426.29,270.01 426.64,270.81 427,271.61 427.35,272.45 427.7,273.42 428.06,274.5 428.41,275.69 428.76,276.97 429.11,278.32 429.47,279.73 429.82,281.2 430.17,282.7 430.53,284.23 430.88,285.77 431.23,287.3 431.58,288.83 431.94,290.34 432.29,291.91 432.64,293.55 433,295.25 433.35,296.99 433.7,298.78 434.05,300.59 434.41,302.41 434.76,304.23 435.11,306.04 435.47,307.83 435.82,309.59 436.17,311.29 436.52,312.95 436.88,314.53 437.23,316.03 437.58,317.48 437.94,318.9 438.29,320.29 438.64,321.65 438.99,322.98 439.35,324.29 439.7,325.58 440.05,326.85 440.4,328.11 440.76,329.35 441.11,330.58 441.46,331.8 441.82,333.02 442.17,334.23 442.52,335.44 442.87,336.65 443.23,337.87 443.58,339.1 443.93,340.32 444.29,341.55 444.64,342.76 444.99,343.96 445.34,345.14 445.7,346.31 446.05,347.45 446.4,348.56 446.76,349.64 447.11,350.68 447.46,351.69 447.81,352.65 448.17,353.56 448.52,354.44 448.87,355.31 449.23,356.17 449.58,357.02 449.93,357.85 450.28,358.67 450.64,359.48 450.99,360.28 451.34,361.06 451.7,361.83 452.05,362.58 452.4,363.32 452.75,364.04 453.11,364.75 453.46,365.44 453.81,366.12 454.17,366.77 454.52,367.42 454.87,368.04 455.22,368.64 455.58,369.23 455.93,369.8 456.28,370.35 456.64,370.88 456.99,371.39 457.34,371.88 457.69,372.36 458.05,372.84 458.4,373.31 458.75,373.77 459.11,374.23 459.46,374.69 459.81,375.13 460.16,375.58 460.52,376.01 460.87,376.44 461.22,376.86 461.57,377.28 461.93,377.69 462.28,378.1 462.63,378.5 462.99,378.89 463.34,379.28 463.69,379.66 464.04,380.03 464.4,380.4 464.75,380.76 465.1,381.11 465.46,381.46 465.81,381.8 466.16,382.14 466.51,382.47 466.87,382.79 467.22,383.1 467.57,383.41 467.93,383.72 468.28,384.01 468.63,384.3 468.98,384.58 469.34,384.86 469.69,385.13 470.04,385.39 470.4,385.64 470.75,385.89 471.1,386.13 471.45,386.37 471.81,386.59 472.16,386.81 472.51,387.03 472.87,387.23 473.22,387.42 473.57,387.61 473.92,387.79 474.28,387.96 474.63,388.13 474.98,388.29 475.34,388.45 475.69,388.6 476.04,388.76 476.39,388.91 476.75,389.05 477.1,389.2 477.45,389.35 477.81,389.5 478.16,389.65 478.51,389.81 478.86,389.96 479.22,390.12 479.57,390.29 479.92,390.45 480.28,390.62 480.63,390.78 480.98,390.95 481.33,391.12 481.69,391.29 482.04,391.46 482.39,391.63 482.75,391.8 483.1,391.98 483.45,392.15 483.8,392.32 484.16,392.49 484.51,392.66 484.86,392.83 485.21,393 485.57,393.17 485.92,393.34 486.27,393.51 486.63,393.68 486.98,393.84 487.33,394.01 487.68,394.17 488.04,394.33 488.39,394.49 488.74,394.65 489.1,394.81 489.45,394.96 489.8,395.12 490.15,395.27 490.51,395.42 490.86,395.56 491.21,395.71 491.57,395.85 491.92,395.98 492.27,396.12 492.62,396.25 492.98,396.38 493.33,396.51 493.68,396.63 494.04,396.75 494.39,396.88 494.74,397 495.09,397.12 495.45,397.24 495.8,397.36 496.15,397.48 496.51,397.6 496.86,397.72 497.21,397.84 497.56,397.95 497.92,398.07 498.27,398.18 498.62,398.3 498.98,398.41 499.33,398.53 499.68,398.64 500.03,398.75 500.39,398.86 500.74,398.97 501.09,399.08 501.45,399.19 501.8,399.3 502.15,399.41 502.5,399.51 502.86,399.62 503.21,399.72 503.56,399.82 503.91,399.93 504.27,400.03 504.62,400.13 504.97,400.22 505.33,400.32 505.68,400.42 506.03,400.51 506.38,400.61 506.74,400.7 507.09,400.79 507.44,400.88 507.8,400.97 508.15,401.06 508.5,401.15 508.85,401.23 509.21,401.32 509.56,401.4 509.91,401.48 510.27,401.56 510.62,401.64 510.97,401.72 511.32,401.8 511.68,401.87 512.03,401.94 512.38,402.02 512.74,402.09 513.09,402.16 513.44,402.22 513.79,402.29 514.15,402.35 514.5,402.42" fill="none" stroke="#72b83c" stroke-width="1.3"/><circle cx="302.8" cy="402.42" r="1.85" fill="#72b83c"/><circle cx="303.86" cy="402.22" r="1.85" fill="#72b83c"/><circle cx="304.92" cy="402.02" r="1.85" fill="#72b83c"/><circle cx="306.01" cy="401.79" r="1.85" fill="#72b83c"/><circle cx="307.07" cy="401.56" r="1.85" fill="#72b83c"/><circle cx="308.13" cy="401.31" r="1.85" fill="#72b83c"/><circle cx="309.22" cy="401.04" r="1.85" fill="#72b83c"/><circle cx="310.28" cy="400.78" r="1.85" fill="#72b83c"/><circle cx="311.34" cy="400.5" r="1.85" fill="#72b83c"/><circle cx="312.43" cy="400.2" r="1.85" fill="#72b83c"/><circle cx="313.49" cy="399.89" r="1.85" fill="#72b83c"/><circle cx="314.58" cy="399.57" r="1.85" fill="#72b83c"/><circle cx="315.64" cy="399.26" r="1.85" fill="#72b83c"/><circle cx="316.7" cy="398.93" r="1.85" fill="#72b83c"/><circle cx="317.76" cy="398.6" r="1.85" fill="#72b83c"/><circle cx="318.85" cy="398.24" r="1.85" fill="#72b83c"/><circle cx="319.91" cy="397.89" r="1.85" fill="#72b83c"/><circle cx="321.01" cy="397.53" r="1.85" fill="#72b83c"/><circle cx="322.06" cy="397.17" r="1.85" fill="#72b83c"/><circle cx="323.16" cy="396.79" r="1.85" fill="#72b83c"/><circle cx="324.22" cy="396.42" r="1.85" fill="#72b83c"/><circle cx="325.28" cy="396.03" r="1.85" fill="#72b83c"/><circle cx="326.33" cy="395.61" r="1.85" fill="#72b83c"/><circle cx="327.43" cy="395.15" r="1.85" fill="#72b83c"/><circle cx="328.49" cy="394.68" r="1.85" fill="#72b83c"/><circle cx="329.58" cy="394.19" r="1.85" fill="#72b83c"/><circle cx="330.64" cy="393.69" r="1.85" fill="#72b83c"/><circle cx="331.73" cy="393.17" r="1.85" fill="#72b83c"/><circle cx="332.79" cy="392.66" r="1.85" fill="#72b83c"/><circle cx="333.85" cy="392.15" r="1.85" fill="#72b83c"/><circle cx="334.91" cy="391.63" r="1.85" fill="#72b83c"/><circle cx="336" cy="391.11" r="1.85" fill="#72b83c"/><circle cx="337.06" cy="390.6" r="1.85" fill="#72b83c"/><circle cx="338.15" cy="390.09" r="1.85" fill="#72b83c"/><circle cx="339.21" cy="389.62" r="1.85" fill="#72b83c"/><circle cx="340.27" cy="389.17" r="1.85" fill="#72b83c"/><circle cx="341.33" cy="388.72" r="1.85" fill="#72b83c"/><circle cx="342.42" cy="388.24" r="1.85" fill="#72b83c"/><circle cx="343.48" cy="387.73" r="1.85" fill="#72b83c"/><circle cx="344.58" cy="387.15" r="1.85" fill="#72b83c"/><circle cx="345.63" cy="386.5" r="1.85" fill="#72b83c"/><circle cx="346.73" cy="385.76" r="1.85" fill="#72b83c"/><circle cx="347.82" cy="384.94" r="1.85" fill="#72b83c"/><circle cx="348.88" cy="384.09" r="1.85" fill="#72b83c"/><circle cx="349.97" cy="383.13" r="1.85" fill="#72b83c"/><circle cx="351.03" cy="382.15" r="1.85" fill="#72b83c"/><circle cx="352.13" cy="381.08" r="1.85" fill="#72b83c"/><circle cx="353.18" cy="379.98" r="1.85" fill="#72b83c"/><circle cx="354.28" cy="378.8" r="1.85" fill="#72b83c"/><circle cx="355.34" cy="377.6" r="1.85" fill="#72b83c"/><circle cx="356.43" cy="376.31" r="1.85" fill="#72b83c"/><circle cx="357.52" cy="374.98" r="1.85" fill="#72b83c"/><circle cx="358.58" cy="373.65" r="1.85" fill="#72b83c"/><circle cx="359.68" cy="372.24" r="1.85" fill="#72b83c"/><circle cx="360.74" cy="370.83" r="1.85" fill="#72b83c"/><circle cx="361.83" cy="369.31" r="1.85" fill="#72b83c"/><circle cx="362.89" cy="367.75" r="1.85" fill="#72b83c"/><circle cx="363.95" cy="366.09" r="1.85" fill="#72b83c"/><circle cx="365.04" cy="364.25" r="1.85" fill="#72b83c"/><circle cx="366.1" cy="362.33" r="1.85" fill="#72b83c"/><circle cx="367.16" cy="360.27" r="1.85" fill="#72b83c"/><circle cx="368.25" cy="357.96" r="1.85" fill="#72b83c"/><circle cx="369.31" cy="355.55" r="1.85" fill="#72b83c"/><circle cx="370.37" cy="352.92" r="1.85" fill="#72b83c"/><circle cx="371.46" cy="349.63" r="1.85" fill="#72b83c"/><circle cx="372.52" cy="345.88" r="1.85" fill="#72b83c"/><circle cx="373.61" cy="341.56" r="1.85" fill="#72b83c"/><circle cx="374.67" cy="337.11" r="1.85" fill="#72b83c"/><circle cx="375.73" cy="332.52" r="1.85" fill="#72b83c"/><circle cx="376.79" cy="327.9" r="1.85" fill="#72b83c"/><circle cx="377.78" cy="323.32" r="1.85" fill="#72b83c"/><circle cx="378.73" cy="318.65" r="1.85" fill="#72b83c"/><circle cx="379.65" cy="314" r="1.85" fill="#72b83c"/><circle cx="380.53" cy="309.42" r="1.85" fill="#72b83c"/><circle cx="381.41" cy="304.79" r="1.85" fill="#72b83c"/><circle cx="382.26" cy="300.18" r="1.85" fill="#72b83c"/><circle cx="383.07" cy="295.64" r="1.85" fill="#72b83c"/><circle cx="383.88" cy="291.03" r="1.85" fill="#72b83c"/><circle cx="384.69" cy="286.41" r="1.85" fill="#72b83c"/><circle cx="385.5" cy="281.85" r="1.85" fill="#72b83c"/><circle cx="386.32" cy="277.25" r="1.85" fill="#72b83c"/><circle cx="387.13" cy="272.62" r="1.85" fill="#72b83c"/><circle cx="387.94" cy="268.06" r="1.85" fill="#72b83c"/><circle cx="388.79" cy="263.45" r="1.85" fill="#72b83c"/><circle cx="389.67" cy="258.74" r="1.85" fill="#72b83c"/><circle cx="390.51" cy="254.12" r="1.85" fill="#72b83c"/><circle cx="391.43" cy="249.49" r="1.85" fill="#72b83c"/><circle cx="392.49" cy="245.38" r="1.85" fill="#72b83c"/><circle cx="393.58" cy="241.95" r="1.85" fill="#72b83c"/><circle cx="394.64" cy="240.25" r="1.85" fill="#72b83c"/><circle cx="395.7" cy="242.07" r="1.85" fill="#72b83c"/><circle cx="396.79" cy="246.39" r="1.85" fill="#72b83c"/><circle cx="397.57" cy="251.05" r="1.85" fill="#72b83c"/><circle cx="398.14" cy="255.84" r="1.85" fill="#72b83c"/><circle cx="398.63" cy="260.74" r="1.85" fill="#72b83c"/><circle cx="399.09" cy="265.7" r="1.85" fill="#72b83c"/><circle cx="399.48" cy="270.74" r="1.85" fill="#72b83c"/><circle cx="399.79" cy="275.59" r="1.85" fill="#72b83c"/><circle cx="400.08" cy="280.29" r="1.85" fill="#72b83c"/><circle cx="400.36" cy="285.2" r="1.85" fill="#72b83c"/><circle cx="400.64" cy="290.17" r="1.85" fill="#72b83c"/><circle cx="400.92" cy="295.07" r="1.85" fill="#72b83c"/><circle cx="401.21" cy="300.05" r="1.85" fill="#72b83c"/><circle cx="401.49" cy="305.22" r="1.85" fill="#72b83c"/><circle cx="401.73" cy="309.84" r="1.85" fill="#72b83c"/><circle cx="401.98" cy="314.5" r="1.85" fill="#72b83c"/><circle cx="402.23" cy="319.15" r="1.85" fill="#72b83c"/><circle cx="402.48" cy="323.8" r="1.85" fill="#72b83c"/><circle cx="402.72" cy="328.59" r="1.85" fill="#72b83c"/><circle cx="402.97" cy="333.37" r="1.85" fill="#72b83c"/><circle cx="403.22" cy="338" r="1.85" fill="#72b83c"/><circle cx="403.5" cy="342.94" r="1.85" fill="#72b83c"/><circle cx="403.78" cy="347.69" r="1.85" fill="#72b83c"/><circle cx="404.06" cy="352.31" r="1.85" fill="#72b83c"/><circle cx="404.38" cy="357.3" r="1.85" fill="#72b83c"/><circle cx="404.7" cy="362.02" r="1.85" fill="#72b83c"/><circle cx="405.05" cy="366.84" r="1.85" fill="#72b83c"/><circle cx="405.44" cy="371.81" r="1.85" fill="#72b83c"/><circle cx="405.83" cy="376.71" r="1.85" fill="#72b83c"/><circle cx="406.25" cy="381.59" r="1.85" fill="#72b83c"/><circle cx="406.78" cy="386.34" r="1.85" fill="#72b83c"/><circle cx="407.63" cy="390.97" r="1.85" fill="#72b83c"/><circle cx="408.69" cy="393.74" r="1.85" fill="#72b83c"/><circle cx="409.74" cy="391.38" r="1.85" fill="#72b83c"/><circle cx="410.8" cy="386.69" r="1.85" fill="#72b83c"/><circle cx="411.47" cy="381.88" r="1.85" fill="#72b83c"/><circle cx="412.04" cy="377.05" r="1.85" fill="#72b83c"/><circle cx="412.57" cy="372.3" r="1.85" fill="#72b83c"/><circle cx="413.06" cy="367.44" r="1.85" fill="#72b83c"/><circle cx="413.48" cy="362.85" r="1.85" fill="#72b83c"/><circle cx="413.91" cy="357.93" r="1.85" fill="#72b83c"/><circle cx="414.3" cy="353.18" r="1.85" fill="#72b83c"/><circle cx="414.68" cy="348.23" r="1.85" fill="#72b83c"/><circle cx="415.04" cy="343.15" r="1.85" fill="#72b83c"/><circle cx="415.35" cy="338.17" r="1.85" fill="#72b83c"/><circle cx="415.67" cy="333.04" r="1.85" fill="#72b83c"/><circle cx="415.99" cy="327.98" r="1.85" fill="#72b83c"/><circle cx="416.31" cy="323.21" r="1.85" fill="#72b83c"/><circle cx="416.66" cy="318.52" r="1.85" fill="#72b83c"/><circle cx="417.08" cy="313.69" r="1.85" fill="#72b83c"/><circle cx="417.54" cy="308.9" r="1.85" fill="#72b83c"/><circle cx="418.04" cy="304.21" r="1.85" fill="#72b83c"/><circle cx="418.6" cy="299.41" r="1.85" fill="#72b83c"/><circle cx="419.24" cy="294.77" r="1.85" fill="#72b83c"/><circle cx="419.94" cy="290.09" r="1.85" fill="#72b83c"/><circle cx="420.58" cy="285.5" r="1.85" fill="#72b83c"/><circle cx="421.14" cy="280.91" r="1.85" fill="#72b83c"/><circle cx="421.78" cy="276.14" r="1.85" fill="#72b83c"/><circle cx="422.76" cy="271.65" r="1.85" fill="#72b83c"/><circle cx="423.82" cy="268.54" r="1.85" fill="#72b83c"/><circle cx="424.92" cy="267.78" r="1.85" fill="#72b83c"/><circle cx="425.97" cy="269.33" r="1.85" fill="#72b83c"/><circle cx="427.07" cy="271.77" r="1.85" fill="#72b83c"/><circle cx="428.13" cy="274.73" r="1.85" fill="#72b83c"/><circle cx="429.22" cy="278.74" r="1.85" fill="#72b83c"/><circle cx="430.28" cy="283.16" r="1.85" fill="#72b83c"/><circle cx="431.34" cy="287.76" r="1.85" fill="#72b83c"/><circle cx="432.4" cy="292.39" r="1.85" fill="#72b83c"/><circle cx="433.35" cy="296.99" r="1.85" fill="#72b83c"/><circle cx="434.27" cy="301.68" r="1.85" fill="#72b83c"/><circle cx="435.15" cy="306.22" r="1.85" fill="#72b83c"/><circle cx="436.07" cy="310.79" r="1.85" fill="#72b83c"/><circle cx="437.05" cy="315.29" r="1.85" fill="#72b83c"/><circle cx="438.15" cy="319.73" r="1.85" fill="#72b83c"/><circle cx="439.21" cy="323.77" r="1.85" fill="#72b83c"/><circle cx="440.3" cy="327.73" r="1.85" fill="#72b83c"/><circle cx="441.36" cy="331.43" r="1.85" fill="#72b83c"/><circle cx="442.45" cy="335.19" r="1.85" fill="#72b83c"/><circle cx="443.51" cy="338.85" r="1.85" fill="#72b83c"/><circle cx="444.6" cy="342.64" r="1.85" fill="#72b83c"/><circle cx="445.66" cy="346.19" r="1.85" fill="#72b83c"/><circle cx="446.76" cy="349.64" r="1.85" fill="#72b83c"/><circle cx="447.85" cy="352.74" r="1.85" fill="#72b83c"/><circle cx="448.91" cy="355.4" r="1.85" fill="#72b83c"/><circle cx="450" cy="358.02" r="1.85" fill="#72b83c"/><circle cx="451.06" cy="360.44" r="1.85" fill="#72b83c"/><circle cx="452.15" cy="362.81" r="1.85" fill="#72b83c"/><circle cx="453.21" cy="364.96" r="1.85" fill="#72b83c"/><circle cx="454.31" cy="367.03" r="1.85" fill="#72b83c"/><circle cx="455.37" cy="368.88" r="1.85" fill="#72b83c"/><circle cx="456.46" cy="370.62" r="1.85" fill="#72b83c"/><circle cx="457.55" cy="372.17" r="1.85" fill="#72b83c"/><circle cx="458.61" cy="373.59" r="1.85" fill="#72b83c"/><circle cx="459.7" cy="375" r="1.85" fill="#72b83c"/><circle cx="460.76" cy="376.31" r="1.85" fill="#72b83c"/><circle cx="461.86" cy="377.61" r="1.85" fill="#72b83c"/><circle cx="462.92" cy="378.81" r="1.85" fill="#72b83c"/><circle cx="464.01" cy="379.99" r="1.85" fill="#72b83c"/><circle cx="465.07" cy="381.08" r="1.85" fill="#72b83c"/><circle cx="466.16" cy="382.14" r="1.85" fill="#72b83c"/><circle cx="467.26" cy="383.14" r="1.85" fill="#72b83c"/><circle cx="468.31" cy="384.04" r="1.85" fill="#72b83c"/><circle cx="469.41" cy="384.91" r="1.85" fill="#72b83c"/><circle cx="470.47" cy="385.69" r="1.85" fill="#72b83c"/><circle cx="471.56" cy="386.44" r="1.85" fill="#72b83c"/><circle cx="472.62" cy="387.09" r="1.85" fill="#72b83c"/><circle cx="473.71" cy="387.68" r="1.85" fill="#72b83c"/><circle cx="474.77" cy="388.19" r="1.85" fill="#72b83c"/><circle cx="475.86" cy="388.68" r="1.85" fill="#72b83c"/><circle cx="476.96" cy="389.14" r="1.85" fill="#72b83c"/><circle cx="478.02" cy="389.59" r="1.85" fill="#72b83c"/><circle cx="479.11" cy="390.07" r="1.85" fill="#72b83c"/><circle cx="480.17" cy="390.57" r="1.85" fill="#72b83c"/><circle cx="481.26" cy="391.09" r="1.85" fill="#72b83c"/><circle cx="482.32" cy="391.6" r="1.85" fill="#72b83c"/><circle cx="483.42" cy="392.13" r="1.85" fill="#72b83c"/><circle cx="484.47" cy="392.64" r="1.85" fill="#72b83c"/><circle cx="485.57" cy="393.17" r="1.85" fill="#72b83c"/><circle cx="486.66" cy="393.69" r="1.85" fill="#72b83c"/><circle cx="487.72" cy="394.19" r="1.85" fill="#72b83c"/><circle cx="488.81" cy="394.68" r="1.85" fill="#72b83c"/><circle cx="489.87" cy="395.15" r="1.85" fill="#72b83c"/><circle cx="490.97" cy="395.61" r="1.85" fill="#72b83c"/><circle cx="492.02" cy="396.03" r="1.85" fill="#72b83c"/><circle cx="493.12" cy="396.43" r="1.85" fill="#72b83c"/><circle cx="494.18" cy="396.8" r="1.85" fill="#72b83c"/><circle cx="495.27" cy="397.18" r="1.85" fill="#72b83c"/><circle cx="496.36" cy="397.55" r="1.85" fill="#72b83c"/><circle cx="497.42" cy="397.91" r="1.85" fill="#72b83c"/><circle cx="498.52" cy="398.27" r="1.85" fill="#72b83c"/><circle cx="499.58" cy="398.61" r="1.85" fill="#72b83c"/><circle cx="500.67" cy="398.95" r="1.85" fill="#72b83c"/><circle cx="501.73" cy="399.28" r="1.85" fill="#72b83c"/><circle cx="502.82" cy="399.61" r="1.85" fill="#72b83c"/><circle cx="503.88" cy="399.92" r="1.85" fill="#72b83c"/><circle cx="504.97" cy="400.22" r="1.85" fill="#72b83c"/><circle cx="506.07" cy="400.52" r="1.85" fill="#72b83c"/><circle cx="507.13" cy="400.8" r="1.85" fill="#72b83c"/><circle cx="508.22" cy="401.08" r="1.85" fill="#72b83c"/><circle cx="509.28" cy="401.34" r="1.85" fill="#72b83c"/><circle cx="510.37" cy="401.59" r="1.85" fill="#72b83c"/><circle cx="511.43" cy="401.82" r="1.85" fill="#72b83c"/><circle cx="512.52" cy="402.05" r="1.85" fill="#72b83c"/><circle cx="513.58" cy="402.25" r="1.85" fill="#72b83c"/>
<line x1="408.65" y1="239.3" x2="408.65" y2="416.6" stroke="#333" stroke-width="1"/>
<rect x="302.8" y="239.3" width="55.9" height="127.7" fill="#fff"/>
<rect x="457.5" y="239.3" width="57" height="127.7" fill="#fff"/>
<polyline points="310.5,367 314.4,332.8 319.3,296.9 324.1,271.9 329.1,250.1 334.1,243.4 338.9,253.2 343.9,281.75 348.75,332 350.3,367" fill="none" stroke="#8fc965" stroke-width="0.9" stroke-linejoin="round"/><polyline points="312,367 315.5,334 319.3,303.7 324.1,278.2 329.1,259.4 334.1,256.2 338.9,268.7 343.9,300.5 349.1,353.9 349.5,367" fill="none" stroke="#8fc965" stroke-width="0.9" stroke-linejoin="round"/>
<polyline points="312,367 313.6,354.7 319.1,336 323.75,325 329.2,328.4 333.9,346.9 336.5,367" fill="none" stroke="#000" stroke-width="0.9" stroke-linejoin="round"/><polyline points="313.5,367 314.4,357.8 319.1,342 323.75,332 328.4,338.3 334.7,360.2 335.5,367" fill="none" stroke="#000" stroke-width="0.9" stroke-linejoin="round"/>
<polyline points="317.5,367 319.5,360 323.4,348.4 326,347.5 328.75,348.4 331.5,356 334.5,367" fill="none" stroke="#d60f0f" stroke-width="0.9" stroke-linejoin="round"/><polyline points="319,367 320.5,362 323.5,358.6 326,358 329,358.6 332,362 333.5,367" fill="none" stroke="#d60f0f" stroke-width="0.9" stroke-linejoin="round"/>
<circle cx="319.3" cy="296.9" r="2.3" fill="#72b83c"/><circle cx="324.1" cy="271.9" r="2.3" fill="#72b83c"/><circle cx="329.1" cy="250.1" r="2.3" fill="#72b83c"/><circle cx="334.1" cy="243.4" r="2.3" fill="#72b83c"/><circle cx="338.9" cy="253.2" r="2.3" fill="#72b83c"/><circle cx="343.9" cy="281.75" r="2.3" fill="#72b83c"/><circle cx="348.75" cy="332" r="2.3" fill="#72b83c"/><circle cx="314.4" cy="332.8" r="2.3" fill="#72b83c"/><circle cx="319.3" cy="303.7" r="2.3" fill="#72b83c"/><circle cx="324.1" cy="278.2" r="2.3" fill="#72b83c"/><circle cx="329.1" cy="259.4" r="2.3" fill="#72b83c"/><circle cx="334.1" cy="256.2" r="2.3" fill="#72b83c"/><circle cx="338.9" cy="268.7" r="2.3" fill="#72b83c"/><circle cx="343.9" cy="300.5" r="2.3" fill="#72b83c"/><circle cx="349.1" cy="353.9" r="2.3" fill="#72b83c"/>
<rect x="311.9" y="353" width="3.4" height="3.4" fill="#000" transform="rotate(45 313.6 354.7)"/><rect x="317.4" y="334.3" width="3.4" height="3.4" fill="#000" transform="rotate(45 319.1 336)"/><rect x="322.05" y="323.3" width="3.4" height="3.4" fill="#000" transform="rotate(45 323.75 325)"/><rect x="327.5" y="326.7" width="3.4" height="3.4" fill="#000" transform="rotate(45 329.2 328.4)"/><rect x="332.2" y="345.2" width="3.4" height="3.4" fill="#000" transform="rotate(45 333.9 346.9)"/><rect x="312.7" y="356.1" width="3.4" height="3.4" fill="#000" transform="rotate(45 314.4 357.8)"/><rect x="322.05" y="330.3" width="3.4" height="3.4" fill="#000" transform="rotate(45 323.75 332)"/><rect x="326.7" y="336.6" width="3.4" height="3.4" fill="#000" transform="rotate(45 328.4 338.3)"/><rect x="333" y="358.5" width="3.4" height="3.4" fill="#000" transform="rotate(45 334.7 360.2)"/>
<polygon points="323.6,345.7 321.17,350.02 326.03,350.02" fill="#d60f0f"/><polygon points="328.5,345.7 326.07,350.02 330.93,350.02" fill="#d60f0f"/><polygon points="319,355.9 316.57,360.22 321.43,360.22" fill="#d60f0f"/><polygon points="323.8,355.9 321.37,360.22 326.23,360.22" fill="#d60f0f"/><polygon points="328.6,355.9 326.17,360.22 331.03,360.22" fill="#d60f0f"/><polygon points="319,361.9 316.57,366.22 321.43,366.22" fill="#d60f0f"/><polygon points="333.9,361.9 331.47,366.22 336.33,366.22" fill="#d60f0f"/>
<polyline points="465,367 467.7,340 469.8,320 471.2,300 472.5,278.4 477.3,253.4 482.3,247.1 487.7,257 492.1,278.4 497.5,307 502.5,338.2 506,367" fill="none" stroke="#d60f0f" stroke-width="0.9" stroke-linejoin="round"/><polyline points="467.7,367 469.5,340 471,320 472.5,301.6 474.5,285 477.3,269.5 482.9,258.75 487.7,265.9 492.1,281 494.5,292" fill="none" stroke="#d60f0f" stroke-width="0.9" stroke-linejoin="round"/>
<polyline points="481.8,367 482.4,350.6 487.3,331.6 492.8,325.4 497.7,334.7 503,354.3 504.5,367" fill="none" stroke="#000" stroke-width="0.9" stroke-linejoin="round"/><polyline points="482.6,367 482.6,363.5 487.3,337.7 492.8,331.6 497.7,337.7 501,352 502.5,367" fill="none" stroke="#000" stroke-width="0.9" stroke-linejoin="round"/>
<polyline points="482.5,367 484,360 487.3,347.6 492.8,347.6 497.7,356.8 498.5,367" fill="none" stroke="#8fc965" stroke-width="0.9" stroke-linejoin="round"/><polyline points="483.5,367 487.3,357.4 492.8,353.7 497.7,361.7 498,367" fill="none" stroke="#8fc965" stroke-width="0.9" stroke-linejoin="round"/>
<polygon points="477.3,250.7 474.87,255.02 479.73,255.02" fill="#d60f0f"/><polygon points="482.3,244.4 479.87,248.72 484.73,248.72" fill="#d60f0f"/><polygon points="487.7,254.3 485.27,258.62 490.13,258.62" fill="#d60f0f"/><polygon points="472.5,275.7 470.07,280.02 474.93,280.02" fill="#d60f0f"/><polygon points="492.1,275.7 489.67,280.02 494.53,280.02" fill="#d60f0f"/><polygon points="497.5,304.3 495.07,308.62 499.93,308.62" fill="#d60f0f"/><polygon points="503,336.3 500.57,340.62 505.43,340.62" fill="#d60f0f"/><polygon points="477.3,266.8 474.87,271.12 479.73,271.12" fill="#d60f0f"/><polygon points="482.9,256.05 480.47,260.37 485.33,260.37" fill="#d60f0f"/><polygon points="487.7,263.2 485.27,267.52 490.13,267.52" fill="#d60f0f"/><polygon points="492.1,280.3 489.67,284.62 494.53,284.62" fill="#d60f0f"/><polygon points="472.5,298.9 470.07,303.22 474.93,303.22" fill="#d60f0f"/><polygon points="467.7,323 465.27,327.32 470.13,327.32" fill="#d60f0f"/><polygon points="467.7,351.6 465.27,355.92 470.13,355.92" fill="#d60f0f"/>
<rect x="480.7" y="348.9" width="3.4" height="3.4" fill="#000" transform="rotate(45 482.4 350.6)"/><rect x="485.6" y="329.9" width="3.4" height="3.4" fill="#000" transform="rotate(45 487.3 331.6)"/><rect x="491.1" y="323.7" width="3.4" height="3.4" fill="#000" transform="rotate(45 492.8 325.4)"/><rect x="496" y="333" width="3.4" height="3.4" fill="#000" transform="rotate(45 497.7 334.7)"/><rect x="501.3" y="352.6" width="3.4" height="3.4" fill="#000" transform="rotate(45 503 354.3)"/><rect x="480.9" y="361.8" width="3.4" height="3.4" fill="#000" transform="rotate(45 482.6 363.5)"/><rect x="485.6" y="336" width="3.4" height="3.4" fill="#000" transform="rotate(45 487.3 337.7)"/><rect x="491.1" y="329.9" width="3.4" height="3.4" fill="#000" transform="rotate(45 492.8 331.6)"/><rect x="496" y="336" width="3.4" height="3.4" fill="#000" transform="rotate(45 497.7 337.7)"/>
<circle cx="487.3" cy="347.6" r="2.3" fill="#72b83c"/><circle cx="492.8" cy="347.6" r="2.3" fill="#72b83c"/><circle cx="492.8" cy="353.7" r="2.3" fill="#72b83c"/><circle cx="487.3" cy="357.4" r="2.3" fill="#72b83c"/><circle cx="497.7" cy="356.8" r="2.3" fill="#72b83c"/><circle cx="483" cy="361" r="2.3" fill="#72b83c"/><circle cx="497.7" cy="361.7" r="2.3" fill="#72b83c"/><circle cx="483" cy="364" r="2.3" fill="#72b83c"/>
<path d="M304.3 240.8 H358.7 V367" stroke="#5a5a5a" stroke-width="1.3" stroke-dasharray="1.3 1.9" fill="none"/>
<path d="M304.3 240.8 V367" stroke="#5a5a5a" stroke-width="1.3" stroke-dasharray="1.3 1.9" fill="none"/>
<path d="M457.5 367 V240.8 H512.2 V367" stroke="#5a5a5a" stroke-width="1.3" stroke-dasharray="1.3 1.9" fill="none"/>
<line x1="302.8" y1="367" x2="358.7" y2="367" stroke="#777" stroke-width="1"/>
<line x1="457.5" y1="367" x2="514.5" y2="367" stroke="#777" stroke-width="1"/>
<rect x="386.7" y="240.3" width="14.3" height="30.9" stroke="#5a5a5a" stroke-width="1.3" stroke-dasharray="1.3 1.9" fill="none"/>
<rect x="415.6" y="240.3" width="14.8" height="30.9" stroke="#5a5a5a" stroke-width="1.3" stroke-dasharray="1.3 1.9" fill="none"/>
<line x1="358.7" y1="367" x2="386.7" y2="271.2" stroke="#555" stroke-width="0.9"/>
<line x1="457.5" y1="367" x2="430.4" y2="271.2" stroke="#555" stroke-width="0.9"/>
<path d="M302.8 239.3 V416.6 H514.5 V239.3 Z" fill="none" stroke="#6f6f6f" stroke-width="1.2"/>
<text x="302.8" y="430" font-size="8.6" font-family="'Liberation Serif', serif" fill="#000" text-anchor="middle" fill="#222">-7.5</text>
<text x="323.97" y="430" font-size="8.6" font-family="'Liberation Serif', serif" fill="#000" text-anchor="middle" fill="#222">-6</text>
<text x="345.14" y="430" font-size="8.6" font-family="'Liberation Serif', serif" fill="#000" text-anchor="middle" fill="#222">-4.5</text>
<text x="366.31" y="430" font-size="8.6" font-family="'Liberation Serif', serif" fill="#000" text-anchor="middle" fill="#222">-3</text>
<text x="387.48" y="430" font-size="8.6" font-family="'Liberation Serif', serif" fill="#000" text-anchor="middle" fill="#222">-1.5</text>
<text x="408.65" y="430" font-size="8.6" font-family="'Liberation Serif', serif" fill="#000" text-anchor="middle" fill="#222">0</text>
<text x="429.82" y="430" font-size="8.6" font-family="'Liberation Serif', serif" fill="#000" text-anchor="middle" fill="#222">1.5</text>
<text x="450.99" y="430" font-size="8.6" font-family="'Liberation Serif', serif" fill="#000" text-anchor="middle" fill="#222">3</text>
<text x="472.16" y="430" font-size="8.6" font-family="'Liberation Serif', serif" fill="#000" text-anchor="middle" fill="#222">4.5</text>
<text x="493.33" y="430" font-size="8.6" font-family="'Liberation Serif', serif" fill="#000" text-anchor="middle" fill="#222">6</text>
<text x="514.5" y="430" font-size="8.6" font-family="'Liberation Serif', serif" fill="#000" text-anchor="middle" fill="#222">7.5</text>
<text x="295.9" y="419.6" font-size="8.5" font-family="'Liberation Serif', serif" fill="#000" stroke="#000" stroke-width="0.1" text-anchor="end">0.000</text>
<text x="295.9" y="384.14" font-size="8.5" font-family="'Liberation Serif', serif" fill="#000" stroke="#000" stroke-width="0.1" text-anchor="end">0.045</text>
<text x="295.9" y="348.68" font-size="8.5" font-family="'Liberation Serif', serif" fill="#000" stroke="#000" stroke-width="0.1" text-anchor="end">0.090</text>
<text x="295.9" y="313.22" font-size="8.5" font-family="'Liberation Serif', serif" fill="#000" stroke="#000" stroke-width="0.1" text-anchor="end">0.135</text>
<text x="295.9" y="277.76" font-size="8.5" font-family="'Liberation Serif', serif" fill="#000" stroke="#000" stroke-width="0.1" text-anchor="end">0.180</text>
<text x="295.9" y="242.3" font-size="8.5" font-family="'Liberation Serif', serif" fill="#000" stroke="#000" stroke-width="0.1" text-anchor="end">0.225</text>
<text transform="translate(269.3,336.8) rotate(-90)" font-size="9" font-family="'Liberation Serif', serif">&#967;<tspan font-size="6" dy="1.5">X</tspan><tspan dy="-1.5"> (V)</tspan></text>
<text x="344.2" y="443.7" font-size="9.2" font-family="'Liberation Serif', serif" fill="#000" >Applied magnetic field (<tspan font-style="italic">H</tspan><tspan font-size="6.5" dy="1.5">Zdc</tspan><tspan dy="-1.5"> (kOe))</tspan></text>
</svg>
</body></html>
